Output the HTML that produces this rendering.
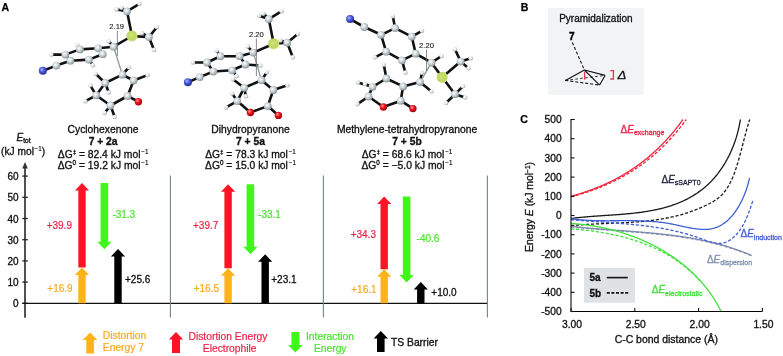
<!DOCTYPE html><html><head><meta charset="utf-8"><style>html,body{margin:0;padding:0;background:#fff;}svg{display:block;font-family:"Liberation Sans", Arial, sans-serif;}</style></head><body>
<svg width="783" height="356" viewBox="0 0 783 356">
<defs><radialGradient id="gC" cx="0.4" cy="0.38" r="0.68"><stop offset="0" stop-color="#ffffff"/><stop offset="0.4" stop-color="#d2dadd"/><stop offset="1" stop-color="#7f8d95"/></radialGradient><radialGradient id="gH" cx="0.38" cy="0.35" r="0.7"><stop offset="0" stop-color="#ffffff"/><stop offset="0.5" stop-color="#e4e7e9"/><stop offset="1" stop-color="#9aa1a5"/></radialGradient><radialGradient id="gN" cx="0.38" cy="0.35" r="0.7"><stop offset="0" stop-color="#aab4ff"/><stop offset="0.45" stop-color="#4657d8"/><stop offset="1" stop-color="#232c8c"/></radialGradient><radialGradient id="gO" cx="0.38" cy="0.35" r="0.7"><stop offset="0" stop-color="#ff9a9a"/><stop offset="0.45" stop-color="#e8101a"/><stop offset="1" stop-color="#9a0008"/></radialGradient><radialGradient id="gS" cx="0.45" cy="0.45" r="0.6"><stop offset="0" stop-color="#cfe47a"/><stop offset="0.65" stop-color="#bcd85e"/><stop offset="1" stop-color="#dce99c"/></radialGradient></defs>
<text x="1.6" y="11.3" font-size="10.60" text-anchor="start" fill="#000" stroke="#000" stroke-width="0.25" font-weight="bold" font-style="normal">A</text>
<text x="520.8" y="11.3" font-size="10.60" text-anchor="start" fill="#000" stroke="#000" stroke-width="0.25" font-weight="bold" font-style="normal">B</text>
<text x="520.2" y="122.5" font-size="10.60" text-anchor="start" fill="#000" stroke="#000" stroke-width="0.25" font-weight="bold" font-style="normal">C</text>
<g stroke="#111" stroke-width="2.6" stroke-linecap="round"><line x1="42.8" y1="70.8" x2="56.3" y2="65.6"/><line x1="56.3" y1="65.6" x2="70.4" y2="60.7"/><line x1="70.4" y1="60.7" x2="65.3" y2="54.6"/><line x1="65.3" y1="54.6" x2="79.9" y2="49.4"/><line x1="79.9" y1="49.4" x2="98.2" y2="48.3"/><line x1="98.2" y1="48.3" x2="102.7" y2="54.2"/><line x1="102.7" y1="54.2" x2="88.9" y2="59.6"/><line x1="88.9" y1="59.6" x2="70.4" y2="60.7"/><line x1="65.3" y1="54.6" x2="51.3" y2="54.6"/><line x1="79.9" y1="49.4" x2="77.2" y2="45.0"/><line x1="88.9" y1="59.6" x2="92.9" y2="65.2"/><line x1="98.2" y1="48.3" x2="113.6" y2="46.7"/><line x1="113.6" y1="46.7" x2="108.6" y2="41.2"/><line x1="113.6" y1="46.7" x2="132.0" y2="36.0"/><line x1="132.0" y1="36.0" x2="127.0" y2="11.3"/><line x1="127.0" y1="11.3" x2="139.4" y2="3.8"/><line x1="127.0" y1="11.3" x2="116.5" y2="9.4"/><line x1="127.0" y1="11.3" x2="121.5" y2="7.8"/><line x1="132.0" y1="36.0" x2="148.9" y2="37.1"/><line x1="148.9" y1="37.1" x2="157.0" y2="27.0"/><line x1="148.9" y1="37.1" x2="154.0" y2="49.9"/><line x1="148.9" y1="37.1" x2="142.0" y2="33.0"/><line x1="122.4" y1="74.7" x2="129.0" y2="67.3"/><line x1="122.4" y1="74.7" x2="133.6" y2="80.5"/><line x1="133.6" y1="80.5" x2="147.5" y2="75.1"/><line x1="133.6" y1="80.5" x2="127.6" y2="96.0"/><line x1="127.6" y1="96.0" x2="138.4" y2="101.7"/><line x1="122.4" y1="74.7" x2="105.2" y2="83.0"/><line x1="105.2" y1="83.0" x2="95.6" y2="73.8"/><line x1="105.2" y1="83.0" x2="108.8" y2="92.5"/><line x1="105.2" y1="83.0" x2="96.2" y2="95.3"/><line x1="96.2" y1="95.3" x2="90.3" y2="85.3"/><line x1="96.2" y1="95.3" x2="85.3" y2="101.2"/><line x1="96.2" y1="95.3" x2="110.5" y2="105.5"/><line x1="110.5" y1="105.5" x2="104.6" y2="113.0"/><line x1="110.5" y1="105.5" x2="114.7" y2="117.0"/><line x1="110.5" y1="105.5" x2="127.6" y2="96.0"/></g><line x1="113.6" y1="46.7" x2="122.4" y2="74.7" stroke="#8f979b" stroke-width="1.3"/><circle cx="51.3" cy="54.6" r="2.3" fill="url(#gH)"/><circle cx="77.2" cy="45.0" r="2.3" fill="url(#gH)"/><circle cx="92.9" cy="65.2" r="2.3" fill="url(#gH)"/><circle cx="108.6" cy="41.2" r="2.3" fill="url(#gH)"/><circle cx="139.4" cy="3.8" r="2.3" fill="url(#gH)"/><circle cx="116.5" cy="9.4" r="2.3" fill="url(#gH)"/><circle cx="121.5" cy="7.8" r="2.3" fill="url(#gH)"/><circle cx="157.0" cy="27.0" r="2.3" fill="url(#gH)"/><circle cx="154.0" cy="49.9" r="2.3" fill="url(#gH)"/><circle cx="142.0" cy="33.0" r="2.3" fill="url(#gH)"/><circle cx="129.0" cy="67.3" r="2.3" fill="url(#gH)"/><circle cx="147.5" cy="75.1" r="2.3" fill="url(#gH)"/><circle cx="95.6" cy="73.8" r="2.3" fill="url(#gH)"/><circle cx="108.8" cy="92.5" r="2.3" fill="url(#gH)"/><circle cx="90.3" cy="85.3" r="2.3" fill="url(#gH)"/><circle cx="85.3" cy="101.2" r="2.3" fill="url(#gH)"/><circle cx="104.6" cy="113.0" r="2.3" fill="url(#gH)"/><circle cx="114.7" cy="117.0" r="2.3" fill="url(#gH)"/><circle cx="42.8" cy="70.8" r="4.0" fill="url(#gN)"/><circle cx="56.3" cy="65.6" r="3.9" fill="url(#gC)"/><circle cx="70.4" cy="60.7" r="3.9" fill="url(#gC)"/><circle cx="65.3" cy="54.6" r="3.9" fill="url(#gC)"/><circle cx="79.9" cy="49.4" r="3.9" fill="url(#gC)"/><circle cx="98.2" cy="48.3" r="3.9" fill="url(#gC)"/><circle cx="102.7" cy="54.2" r="3.9" fill="url(#gC)"/><circle cx="88.9" cy="59.6" r="3.9" fill="url(#gC)"/><circle cx="113.6" cy="46.7" r="3.9" fill="url(#gC)"/><circle cx="132.0" cy="36.0" r="5.6" fill="url(#gS)"/><circle cx="127.0" cy="11.3" r="3.9" fill="url(#gC)"/><circle cx="148.9" cy="37.1" r="3.9" fill="url(#gC)"/><circle cx="122.4" cy="74.7" r="3.9" fill="url(#gC)"/><circle cx="133.6" cy="80.5" r="3.9" fill="url(#gC)"/><circle cx="127.6" cy="96.0" r="3.9" fill="url(#gC)"/><circle cx="138.4" cy="101.7" r="3.7" fill="url(#gO)"/><circle cx="105.2" cy="83.0" r="3.9" fill="url(#gC)"/><circle cx="96.2" cy="95.3" r="3.9" fill="url(#gC)"/><circle cx="110.5" cy="105.5" r="3.9" fill="url(#gC)"/><text x="116.7" y="29.2" font-size="7.60" text-anchor="middle" fill="#222" stroke="#222" stroke-width="0.12" font-weight="normal" font-style="normal">2.19</text><line x1="117.4" y1="30.5" x2="117.4" y2="56.0" stroke="#6b7075" stroke-width="0.8"/>
<g stroke="#111" stroke-width="2.6" stroke-linecap="round"><line x1="187.9" y1="82.2" x2="199.8" y2="77.1"/><line x1="199.8" y1="77.1" x2="213.3" y2="71.5"/><line x1="213.3" y1="71.5" x2="207.0" y2="62.5"/><line x1="207.0" y1="62.5" x2="220.4" y2="56.2"/><line x1="220.4" y1="56.2" x2="239.6" y2="56.2"/><line x1="239.6" y1="56.2" x2="245.4" y2="64.5"/><line x1="245.4" y1="64.5" x2="232.1" y2="70.3"/><line x1="232.1" y1="70.3" x2="213.3" y2="71.5"/><line x1="207.0" y1="62.5" x2="193.0" y2="62.5"/><line x1="220.4" y1="56.2" x2="216.4" y2="50.6"/><line x1="232.1" y1="70.3" x2="236.6" y2="76.0"/><line x1="239.6" y1="56.2" x2="253.3" y2="52.6"/><line x1="253.3" y1="52.6" x2="247.6" y2="46.4"/><line x1="253.3" y1="52.6" x2="273.7" y2="43.8"/><line x1="273.7" y1="43.8" x2="268.8" y2="19.1"/><line x1="268.8" y1="19.1" x2="281.6" y2="11.2"/><line x1="268.8" y1="19.1" x2="259.1" y2="15.7"/><line x1="268.8" y1="19.1" x2="263.6" y2="13.5"/><line x1="273.7" y1="43.8" x2="287.2" y2="42.7"/><line x1="287.2" y1="42.7" x2="298.0" y2="33.7"/><line x1="287.2" y1="42.7" x2="292.8" y2="57.3"/><line x1="287.2" y1="42.7" x2="280.4" y2="40.4"/><line x1="261.5" y1="80.2" x2="266.9" y2="72.1"/><line x1="261.5" y1="80.2" x2="273.3" y2="90.0"/><line x1="273.3" y1="90.0" x2="287.5" y2="85.3"/><line x1="273.3" y1="90.0" x2="267.8" y2="106.1"/><line x1="267.8" y1="106.1" x2="278.4" y2="115.4"/><line x1="267.8" y1="106.1" x2="250.4" y2="112.5"/><line x1="250.4" y1="112.5" x2="237.3" y2="101.1"/><line x1="237.3" y1="101.1" x2="232.1" y2="93.5"/><line x1="237.3" y1="101.1" x2="226.0" y2="107.4"/><line x1="237.3" y1="101.1" x2="244.2" y2="87.8"/><line x1="244.2" y1="87.8" x2="245.9" y2="96.2"/><line x1="244.2" y1="87.8" x2="232.8" y2="79.3"/><line x1="244.2" y1="87.8" x2="261.5" y2="80.2"/><line x1="245.4" y1="64.5" x2="260.4" y2="65.5"/></g><line x1="253.3" y1="52.6" x2="261.5" y2="80.2" stroke="#8f979b" stroke-width="1.3"/><circle cx="193.0" cy="62.5" r="2.3" fill="url(#gH)"/><circle cx="216.4" cy="50.6" r="2.3" fill="url(#gH)"/><circle cx="236.6" cy="76.0" r="2.3" fill="url(#gH)"/><circle cx="247.6" cy="46.4" r="2.3" fill="url(#gH)"/><circle cx="281.6" cy="11.2" r="2.3" fill="url(#gH)"/><circle cx="259.1" cy="15.7" r="2.3" fill="url(#gH)"/><circle cx="263.6" cy="13.5" r="2.3" fill="url(#gH)"/><circle cx="298.0" cy="33.7" r="2.3" fill="url(#gH)"/><circle cx="292.8" cy="57.3" r="2.3" fill="url(#gH)"/><circle cx="280.4" cy="40.4" r="2.3" fill="url(#gH)"/><circle cx="266.9" cy="72.1" r="2.3" fill="url(#gH)"/><circle cx="287.5" cy="85.3" r="2.3" fill="url(#gH)"/><circle cx="232.1" cy="93.5" r="2.3" fill="url(#gH)"/><circle cx="226.0" cy="107.4" r="2.3" fill="url(#gH)"/><circle cx="245.9" cy="96.2" r="2.3" fill="url(#gH)"/><circle cx="232.8" cy="79.3" r="2.3" fill="url(#gH)"/><circle cx="260.4" cy="65.5" r="2.3" fill="url(#gH)"/><circle cx="187.9" cy="82.2" r="4.0" fill="url(#gN)"/><circle cx="199.8" cy="77.1" r="3.9" fill="url(#gC)"/><circle cx="213.3" cy="71.5" r="3.9" fill="url(#gC)"/><circle cx="207.0" cy="62.5" r="3.9" fill="url(#gC)"/><circle cx="220.4" cy="56.2" r="3.9" fill="url(#gC)"/><circle cx="239.6" cy="56.2" r="3.9" fill="url(#gC)"/><circle cx="245.4" cy="64.5" r="3.9" fill="url(#gC)"/><circle cx="232.1" cy="70.3" r="3.9" fill="url(#gC)"/><circle cx="253.3" cy="52.6" r="3.9" fill="url(#gC)"/><circle cx="273.7" cy="43.8" r="5.6" fill="url(#gS)"/><circle cx="268.8" cy="19.1" r="3.9" fill="url(#gC)"/><circle cx="287.2" cy="42.7" r="3.9" fill="url(#gC)"/><circle cx="261.5" cy="80.2" r="3.9" fill="url(#gC)"/><circle cx="273.3" cy="90.0" r="3.9" fill="url(#gC)"/><circle cx="267.8" cy="106.1" r="3.9" fill="url(#gC)"/><circle cx="278.4" cy="115.4" r="3.7" fill="url(#gO)"/><circle cx="250.4" cy="112.5" r="3.7" fill="url(#gO)"/><circle cx="237.3" cy="101.1" r="3.9" fill="url(#gC)"/><circle cx="244.2" cy="87.8" r="3.9" fill="url(#gC)"/><text x="256.3" y="37.0" font-size="7.60" text-anchor="middle" fill="#222" stroke="#222" stroke-width="0.12" font-weight="normal" font-style="normal">2.20</text><line x1="256.4" y1="38.5" x2="256.4" y2="76.0" stroke="#6b7075" stroke-width="0.8"/>
<g stroke="#111" stroke-width="2.6" stroke-linecap="round"><line x1="350.1" y1="19.1" x2="364.3" y2="27.0"/><line x1="364.3" y1="27.0" x2="381.1" y2="34.8"/><line x1="381.1" y1="34.8" x2="395.1" y2="28.1"/><line x1="395.1" y1="28.1" x2="411.8" y2="36.6"/><line x1="411.8" y1="36.6" x2="415.7" y2="53.7"/><line x1="415.7" y1="53.7" x2="402.0" y2="60.3"/><line x1="402.0" y1="60.3" x2="386.1" y2="51.7"/><line x1="386.1" y1="51.7" x2="381.1" y2="34.8"/><line x1="395.1" y1="28.1" x2="392.8" y2="16.2"/><line x1="411.8" y1="36.6" x2="422.0" y2="30.8"/><line x1="402.0" y1="60.3" x2="405.4" y2="72.6"/><line x1="386.1" y1="51.7" x2="374.8" y2="57.3"/><line x1="415.7" y1="53.7" x2="431.5" y2="62.7"/><line x1="431.5" y1="62.7" x2="441.6" y2="56.0"/><line x1="431.5" y1="62.7" x2="442.2" y2="77.3"/><line x1="442.2" y1="77.3" x2="460.7" y2="61.6"/><line x1="460.7" y1="61.6" x2="455.0" y2="49.2"/><line x1="460.7" y1="61.6" x2="470.8" y2="58.2"/><line x1="460.7" y1="61.6" x2="468.5" y2="68.3"/><line x1="442.2" y1="77.3" x2="455.0" y2="94.2"/><line x1="455.0" y1="94.2" x2="462.9" y2="86.3"/><line x1="455.0" y1="94.2" x2="465.2" y2="97.5"/><line x1="455.0" y1="94.2" x2="446.0" y2="103.0"/><line x1="420.0" y1="82.1" x2="422.0" y2="72.8"/><line x1="420.0" y1="82.1" x2="431.5" y2="91.5"/><line x1="420.0" y1="82.1" x2="403.1" y2="86.4"/><line x1="403.1" y1="86.4" x2="400.7" y2="100.7"/><line x1="400.7" y1="100.7" x2="412.9" y2="108.6"/><line x1="400.7" y1="100.7" x2="383.4" y2="107.0"/><line x1="383.4" y1="107.0" x2="368.5" y2="96.5"/><line x1="368.5" y1="96.5" x2="357.5" y2="104.1"/><line x1="368.5" y1="96.5" x2="372.5" y2="86.8"/><line x1="372.5" y1="86.8" x2="357.9" y2="82.4"/><line x1="372.5" y1="86.8" x2="365.0" y2="84.0"/><line x1="372.5" y1="86.8" x2="386.4" y2="78.5"/><line x1="386.4" y1="78.5" x2="383.8" y2="64.7"/><line x1="386.4" y1="78.5" x2="403.1" y2="86.4"/></g><line x1="431.5" y1="62.7" x2="420.0" y2="82.1" stroke="#8f979b" stroke-width="1.3"/><circle cx="392.8" cy="16.2" r="2.3" fill="url(#gH)"/><circle cx="422.0" cy="30.8" r="2.3" fill="url(#gH)"/><circle cx="405.4" cy="72.6" r="2.3" fill="url(#gH)"/><circle cx="374.8" cy="57.3" r="2.3" fill="url(#gH)"/><circle cx="441.6" cy="56.0" r="2.3" fill="url(#gH)"/><circle cx="455.0" cy="49.2" r="2.3" fill="url(#gH)"/><circle cx="470.8" cy="58.2" r="2.3" fill="url(#gH)"/><circle cx="468.5" cy="68.3" r="2.3" fill="url(#gH)"/><circle cx="462.9" cy="86.3" r="2.3" fill="url(#gH)"/><circle cx="465.2" cy="97.5" r="2.3" fill="url(#gH)"/><circle cx="446.0" cy="103.0" r="2.3" fill="url(#gH)"/><circle cx="422.0" cy="72.8" r="2.3" fill="url(#gH)"/><circle cx="431.5" cy="91.5" r="2.3" fill="url(#gH)"/><circle cx="383.8" cy="64.7" r="2.3" fill="url(#gH)"/><circle cx="357.9" cy="82.4" r="2.3" fill="url(#gH)"/><circle cx="365.0" cy="84.0" r="2.3" fill="url(#gH)"/><circle cx="357.5" cy="104.1" r="2.3" fill="url(#gH)"/><circle cx="350.1" cy="19.1" r="4.0" fill="url(#gN)"/><circle cx="364.3" cy="27.0" r="3.9" fill="url(#gC)"/><circle cx="381.1" cy="34.8" r="3.9" fill="url(#gC)"/><circle cx="395.1" cy="28.1" r="3.9" fill="url(#gC)"/><circle cx="411.8" cy="36.6" r="3.9" fill="url(#gC)"/><circle cx="415.7" cy="53.7" r="3.9" fill="url(#gC)"/><circle cx="402.0" cy="60.3" r="3.9" fill="url(#gC)"/><circle cx="386.1" cy="51.7" r="3.9" fill="url(#gC)"/><circle cx="431.5" cy="62.7" r="3.9" fill="url(#gC)"/><circle cx="442.2" cy="77.3" r="5.6" fill="url(#gS)"/><circle cx="460.7" cy="61.6" r="3.9" fill="url(#gC)"/><circle cx="455.0" cy="94.2" r="3.9" fill="url(#gC)"/><circle cx="420.0" cy="82.1" r="3.9" fill="url(#gC)"/><circle cx="403.1" cy="86.4" r="3.9" fill="url(#gC)"/><circle cx="400.7" cy="100.7" r="3.9" fill="url(#gC)"/><circle cx="412.9" cy="108.6" r="3.7" fill="url(#gO)"/><circle cx="383.4" cy="107.0" r="3.7" fill="url(#gO)"/><circle cx="386.4" cy="78.5" r="3.9" fill="url(#gC)"/><circle cx="372.5" cy="86.8" r="3.9" fill="url(#gC)"/><circle cx="368.5" cy="96.5" r="3.9" fill="url(#gC)"/><text x="426.5" y="48.0" font-size="7.60" text-anchor="middle" fill="#222" stroke="#222" stroke-width="0.12" font-weight="normal" font-style="normal">2.20</text><line x1="426.5" y1="49.5" x2="426.5" y2="71.0" stroke="#6b7075" stroke-width="0.8"/>
<text x="103.1" y="132.7" font-size="10.30" text-anchor="middle" fill="#111" stroke="#111" stroke-width="0.32" font-weight="normal" font-style="normal">Cyclohexenone</text>
<text x="103.1" y="145.0" font-size="10.30" text-anchor="middle" fill="#111" stroke="#111" stroke-width="0.32" font-weight="bold" font-style="normal">7 + 2a</text>
<text x="103.1" y="157.6" font-size="10.30" text-anchor="middle" fill="#111" stroke="#111" stroke-width="0.32" font-weight="normal" font-style="normal">&#916;G<tspan font-size="5.6" dy="-3.6" dx="0.3">&#8225;</tspan><tspan dy="3.6"> = 82.4 kJ mol</tspan><tspan font-size="6.3" dy="-3.7" dx="0.8" stroke-width="0.15">&#8722;1</tspan></text>
<text x="103.1" y="169.0" font-size="10.30" text-anchor="middle" fill="#111" stroke="#111" stroke-width="0.32" font-weight="normal" font-style="normal">&#916;G<tspan font-size="6.3" dy="-3.7">0</tspan><tspan dy="3.7"> = 19.2 kJ mol</tspan><tspan font-size="6.3" dy="-3.7" dx="0.8" stroke-width="0.15">&#8722;1</tspan></text>
<text x="250.5" y="132.7" font-size="10.30" text-anchor="middle" fill="#111" stroke="#111" stroke-width="0.32" font-weight="normal" font-style="normal">Dihydropyranone</text>
<text x="250.5" y="145.0" font-size="10.30" text-anchor="middle" fill="#111" stroke="#111" stroke-width="0.32" font-weight="bold" font-style="normal">7 + 5a</text>
<text x="250.5" y="157.6" font-size="10.30" text-anchor="middle" fill="#111" stroke="#111" stroke-width="0.32" font-weight="normal" font-style="normal">&#916;G<tspan font-size="5.6" dy="-3.6" dx="0.3">&#8225;</tspan><tspan dy="3.6"> = 78.3 kJ mol</tspan><tspan font-size="6.3" dy="-3.7" dx="0.8" stroke-width="0.15">&#8722;1</tspan></text>
<text x="250.5" y="169.0" font-size="10.30" text-anchor="middle" fill="#111" stroke="#111" stroke-width="0.32" font-weight="normal" font-style="normal">&#916;G<tspan font-size="6.3" dy="-3.7">0</tspan><tspan dy="3.7"> = 15.0 kJ mol</tspan><tspan font-size="6.3" dy="-3.7" dx="0.8" stroke-width="0.15">&#8722;1</tspan></text>
<text x="407.0" y="132.7" font-size="10.30" text-anchor="middle" fill="#111" stroke="#111" stroke-width="0.32" font-weight="normal" font-style="normal">Methylene-tetrahydropyranone</text>
<text x="407.0" y="145.0" font-size="10.30" text-anchor="middle" fill="#111" stroke="#111" stroke-width="0.32" font-weight="bold" font-style="normal">7 + 5b</text>
<text x="407.0" y="157.6" font-size="10.30" text-anchor="middle" fill="#111" stroke="#111" stroke-width="0.32" font-weight="normal" font-style="normal">&#916;G<tspan font-size="5.6" dy="-3.6" dx="0.3">&#8225;</tspan><tspan dy="3.6"> = 68.6 kJ mol</tspan><tspan font-size="6.3" dy="-3.7" dx="0.8" stroke-width="0.15">&#8722;1</tspan></text>
<text x="407.0" y="169.0" font-size="10.30" text-anchor="middle" fill="#111" stroke="#111" stroke-width="0.32" font-weight="normal" font-style="normal">&#916;G<tspan font-size="6.3" dy="-3.7">0</tspan><tspan dy="3.7"> = &#8722;5.0 kJ mol</tspan><tspan font-size="6.3" dy="-3.7" dx="0.8" stroke-width="0.15">&#8722;1</tspan></text>
<text x="23.5" y="141.0" font-size="10.00" text-anchor="middle" fill="#111" stroke="#111" stroke-width="0.32" font-weight="normal" font-style="normal"><tspan font-style="italic">E</tspan><tspan font-size="6.5" dy="2.2">tot</tspan></text>
<text x="23.1" y="154.6" font-size="10.20" text-anchor="middle" fill="#111" stroke="#111" stroke-width="0.32" font-weight="normal" font-style="normal">(kJ mol<tspan font-size="6.3" dy="-3.7" dx="0.6" stroke-width="0.15">&#8722;1</tspan><tspan dy="3.7">)</tspan></text>
<line x1="25" y1="166" x2="25" y2="317.8" stroke="#262626" stroke-width="1.6"/>
<polygon points="25,162 22.2,168.5 27.8,168.5" fill="#333"/>
<line x1="22.3" y1="303.3" x2="27.8" y2="303.3" stroke="#262626" stroke-width="1.3"/>
<text x="18.6" y="307.4" font-size="10.00" text-anchor="end" fill="#111" stroke="#111" stroke-width="0.32" font-weight="normal" font-style="normal">0</text>
<line x1="22.3" y1="282.1" x2="27.8" y2="282.1" stroke="#262626" stroke-width="1.3"/>
<text x="18.6" y="286.2" font-size="10.00" text-anchor="end" fill="#111" stroke="#111" stroke-width="0.32" font-weight="normal" font-style="normal">10</text>
<line x1="22.3" y1="260.9" x2="27.8" y2="260.9" stroke="#262626" stroke-width="1.3"/>
<text x="18.6" y="265.0" font-size="10.00" text-anchor="end" fill="#111" stroke="#111" stroke-width="0.32" font-weight="normal" font-style="normal">20</text>
<line x1="22.3" y1="239.7" x2="27.8" y2="239.7" stroke="#262626" stroke-width="1.3"/>
<text x="18.6" y="243.8" font-size="10.00" text-anchor="end" fill="#111" stroke="#111" stroke-width="0.32" font-weight="normal" font-style="normal">30</text>
<line x1="22.3" y1="218.5" x2="27.8" y2="218.5" stroke="#262626" stroke-width="1.3"/>
<text x="18.6" y="222.6" font-size="10.00" text-anchor="end" fill="#111" stroke="#111" stroke-width="0.32" font-weight="normal" font-style="normal">40</text>
<line x1="22.3" y1="197.3" x2="27.8" y2="197.3" stroke="#262626" stroke-width="1.3"/>
<text x="18.6" y="201.4" font-size="10.00" text-anchor="end" fill="#111" stroke="#111" stroke-width="0.32" font-weight="normal" font-style="normal">50</text>
<line x1="22.3" y1="176.1" x2="27.8" y2="176.1" stroke="#262626" stroke-width="1.3"/>
<text x="18.6" y="180.2" font-size="10.00" text-anchor="end" fill="#111" stroke="#111" stroke-width="0.32" font-weight="normal" font-style="normal">60</text>
<line x1="22.3" y1="303.4" x2="487.5" y2="303.4" stroke="#111" stroke-width="1.1"/>
<line x1="170.4" y1="175.5" x2="170.4" y2="317.4" stroke="#6e8393" stroke-width="1.1"/>
<line x1="323.4" y1="175.5" x2="323.4" y2="317.4" stroke="#6e8393" stroke-width="1.1"/>
<line x1="487.4" y1="175.5" x2="487.4" y2="317.4" stroke="#6e8393" stroke-width="1.1"/>
<polygon fill="#ffb21a" points="78.3,303.3 78.3,275.0 74.9,275.0 82.0,267.5 89.1,275.0 85.7,275.0 85.7,303.3"/>
<polygon fill="#fe1426" points="78.3,267.5 78.3,190.4 74.9,190.4 82.0,182.9 89.1,190.4 85.7,190.4 85.7,267.5"/>
<polygon fill="#3ff818" points="100.6,182.9 100.6,241.7 97.3,241.7 104.4,249.2 111.5,241.7 108.2,241.7 108.2,182.9"/>
<polygon fill="#000" points="114.3,303.3 114.3,256.5 110.9,256.5 118.0,249.0 125.1,256.5 121.7,256.5 121.7,303.3"/>
<polygon fill="#ffb21a" points="224.4,303.3 224.4,275.8 221.0,275.8 228.1,268.3 235.2,275.8 231.8,275.8 231.8,303.3"/>
<polygon fill="#fe1426" points="224.4,268.3 224.4,191.7 221.0,191.7 228.1,184.2 235.2,191.7 231.8,191.7 231.8,268.3"/>
<polygon fill="#3ff818" points="246.6,184.2 246.6,246.8 243.3,246.8 250.4,254.3 257.5,246.8 254.2,246.8 254.2,184.2"/>
<polygon fill="#000" points="261.5,303.3 261.5,261.8 258.1,261.8 265.2,254.3 272.3,261.8 268.9,261.8 268.9,303.3"/>
<polygon fill="#ffb21a" points="380.5,303.3 380.5,276.7 377.1,276.7 384.2,269.2 391.3,276.7 387.9,276.7 387.9,303.3"/>
<polygon fill="#fe1426" points="380.5,269.2 380.5,204.0 377.1,204.0 384.2,196.5 391.3,204.0 387.9,204.0 387.9,269.2"/>
<polygon fill="#3ff818" points="402.8,196.5 402.8,275.0 399.5,275.0 406.6,282.5 413.7,275.0 410.4,275.0 410.4,196.5"/>
<polygon fill="#000" points="417.1,303.3 417.1,289.6 413.7,289.6 420.8,282.1 427.9,289.6 424.5,289.6 424.5,303.3"/>
<text x="59.3" y="228.8" font-size="10.00" text-anchor="middle" fill="#ec1f45" stroke="#ec1f45" stroke-width="0.18" font-weight="normal" font-style="normal">+39.9</text>
<text x="123.8" y="217.6" font-size="10.00" text-anchor="middle" fill="#46e62a" stroke="#46e62a" stroke-width="0.18" font-weight="normal" font-style="normal">-31.3</text>
<text x="60.0" y="292.0" font-size="10.00" text-anchor="middle" fill="#f8a91c" stroke="#f8a91c" stroke-width="0.18" font-weight="normal" font-style="normal">+16.9</text>
<text x="137.7" y="283.2" font-size="10.00" text-anchor="middle" fill="#111" stroke="#111" stroke-width="0.30" font-weight="normal" font-style="normal">+25.6</text>
<text x="205.7" y="228.8" font-size="10.00" text-anchor="middle" fill="#ec1f45" stroke="#ec1f45" stroke-width="0.18" font-weight="normal" font-style="normal">+39.7</text>
<text x="269.5" y="217.6" font-size="10.00" text-anchor="middle" fill="#46e62a" stroke="#46e62a" stroke-width="0.18" font-weight="normal" font-style="normal">-33.1</text>
<text x="206.3" y="292.0" font-size="10.00" text-anchor="middle" fill="#f8a91c" stroke="#f8a91c" stroke-width="0.18" font-weight="normal" font-style="normal">+16.5</text>
<text x="283.9" y="283.2" font-size="10.00" text-anchor="middle" fill="#111" stroke="#111" stroke-width="0.30" font-weight="normal" font-style="normal">+23.1</text>
<text x="363.3" y="238.0" font-size="10.00" text-anchor="middle" fill="#ec1f45" stroke="#ec1f45" stroke-width="0.18" font-weight="normal" font-style="normal">+34.3</text>
<text x="428.0" y="242.0" font-size="10.00" text-anchor="middle" fill="#46e62a" stroke="#46e62a" stroke-width="0.18" font-weight="normal" font-style="normal">-40.6</text>
<text x="363.9" y="292.6" font-size="10.00" text-anchor="middle" fill="#f8a91c" stroke="#f8a91c" stroke-width="0.18" font-weight="normal" font-style="normal">+16.1</text>
<text x="444.0" y="296.3" font-size="10.00" text-anchor="middle" fill="#111" stroke="#111" stroke-width="0.30" font-weight="normal" font-style="normal">+10.0</text>
<polygon fill="#ffb21a" points="86.3,353.5 86.3,340.0 82.9,340.0 90.1,332.4 97.3,340.0 93.9,340.0 93.9,353.5"/>
<text x="102.8" y="339.4" font-size="10.30" text-anchor="start" fill="#f8a91c" stroke="#f8a91c" stroke-width="0.20" font-weight="normal" font-style="normal">Distortion</text>
<text x="102.8" y="351.3" font-size="10.30" text-anchor="start" fill="#f8a91c" stroke="#f8a91c" stroke-width="0.20" font-weight="normal" font-style="normal">Energy 7</text>
<polygon fill="#fe1426" points="172.0,353.0 172.0,339.6 168.8,339.6 176.0,332.0 183.2,339.6 180.0,339.6 180.0,353.0"/>
<text x="228.0" y="339.6" font-size="10.30" text-anchor="middle" fill="#ec1f45" stroke="#ec1f45" stroke-width="0.20" font-weight="normal" font-style="normal">Distortion Energy</text>
<text x="229.7" y="351.9" font-size="10.30" text-anchor="middle" fill="#ec1f45" stroke="#ec1f45" stroke-width="0.20" font-weight="normal" font-style="normal">Electrophile</text>
<polygon fill="#3ff818" points="291.4,332.0 291.4,345.1 288.1,345.1 295.4,352.5 302.7,345.1 299.4,345.1 299.4,332.0"/>
<text x="330.0" y="339.6" font-size="10.30" text-anchor="middle" fill="#46e62a" stroke="#46e62a" stroke-width="0.20" font-weight="normal" font-style="normal">Interaction</text>
<text x="330.2" y="351.9" font-size="10.30" text-anchor="middle" fill="#46e62a" stroke="#46e62a" stroke-width="0.20" font-weight="normal" font-style="normal">Energy</text>
<polygon fill="#000" points="377.0,352.0 377.0,338.6 373.6,338.6 380.8,331.0 388.0,338.6 384.6,338.6 384.6,352.0"/>
<text x="391.0" y="346.3" font-size="10.30" text-anchor="start" fill="#111" stroke="#111" stroke-width="0.32" font-weight="normal" font-style="normal">TS Barrier</text>
<rect x="548" y="8" width="95.8" height="86.7" fill="#f1f3f4"/>
<text x="559.2" y="21.8" font-size="10.00" text-anchor="start" fill="#111" stroke="#111" stroke-width="0.32" font-weight="normal" font-style="normal">Pyramidalization</text>
<text x="571.7" y="39.7" font-size="10.00" text-anchor="middle" fill="#000" stroke="#000" stroke-width="0.45" font-weight="bold" font-style="normal">7</text>
<g stroke="#111" stroke-width="1.1" fill="none"><line x1="572.3" y1="42.5" x2="584.4" y2="70" stroke-dasharray="3,2"/><line x1="584.4" y1="70" x2="565.4" y2="80.4"/><line x1="584.4" y1="70" x2="605.1" y2="75.4"/><line x1="584.4" y1="70" x2="599.6" y2="85.1"/><line x1="605.1" y1="75.4" x2="599.6" y2="85.1"/><line x1="565.4" y1="80.4" x2="599.6" y2="85.1" stroke-dasharray="3,2"/><line x1="565.4" y1="80.4" x2="605.1" y2="75.4" stroke-dasharray="2.5,2.5" stroke-width="0.9"/></g>
<line x1="584.6" y1="71.6" x2="584.6" y2="79.6" stroke="#ef3350" stroke-width="1.3"/>
<polyline points="610.3,70.6 613.4,70.6 613.4,79.0 610.3,79.0" fill="none" stroke="#ef3350" stroke-width="1.3"/>
<g transform="translate(617.6,78.5) scale(1.3,1)"><text x="0.0" y="0.0" font-size="10.20" text-anchor="start" fill="#111" stroke="#111" stroke-width="0.25" font-weight="normal" font-style="italic">&#916;</text></g>
<rect x="583.9" y="268" width="51.1" height="34.7" fill="#dfe2e4"/>
<text x="589.4" y="281.2" font-size="10.00" text-anchor="start" fill="#111" stroke="#111" stroke-width="0.32" font-weight="bold" font-style="normal">5a</text>
<text x="589.4" y="296.5" font-size="10.00" text-anchor="start" fill="#111" stroke="#111" stroke-width="0.32" font-weight="bold" font-style="normal">5b</text>
<line x1="606.8" y1="277.6" x2="627.8" y2="277.6" stroke="#111" stroke-width="1.6"/>
<line x1="606.8" y1="292.9" x2="628.2" y2="292.9" stroke="#111" stroke-width="1.6" stroke-dasharray="3,1.6"/>
<path d="M571.00,196.30 L571.32,196.21 L571.64,196.12 L571.96,196.03 L572.28,195.94 L572.60,195.85 L572.92,195.76 L573.24,195.67 L573.56,195.58 L573.88,195.49 L574.20,195.40 L574.51,195.31 L574.83,195.21 L575.15,195.12 L575.47,195.03 L575.79,194.93 L576.11,194.84 L576.43,194.74 L576.75,194.65 L577.07,194.55 L577.39,194.45 L577.71,194.36 L578.03,194.26 L578.35,194.16 L578.67,194.06 L578.99,193.97 L579.31,193.87 L579.63,193.77 L579.95,193.67 L580.27,193.57 L580.59,193.47 L580.91,193.36 L581.23,193.26 L581.54,193.16 L581.86,193.06 L582.18,192.95 L582.50,192.85 L582.82,192.75 L583.14,192.64 L583.46,192.54 L583.78,192.43 L584.10,192.32 L584.42,192.22 L584.74,192.11 L585.06,192.00 L585.38,191.89 L585.70,191.79 L586.02,191.68 L586.34,191.57 L586.66,191.46 L586.98,191.35 L587.30,191.24 L587.62,191.12 L587.94,191.01 L588.25,190.90 L588.57,190.79 L588.89,190.67 L589.21,190.56 L589.53,190.44 L589.85,190.33 L590.17,190.21 L590.49,190.10 L590.81,189.98 L591.13,189.86 L591.45,189.74 L591.77,189.63 L592.09,189.51 L592.41,189.39 L592.73,189.27 L593.05,189.15 L593.37,189.02 L593.69,188.90 L594.01,188.78 L594.33,188.66 L594.65,188.53 L594.96,188.41 L595.28,188.29 L595.60,188.16 L595.92,188.03 L596.24,187.91 L596.56,187.78 L596.88,187.65 L597.20,187.53 L597.52,187.40 L597.84,187.27 L598.16,187.14 L598.48,187.01 L598.80,186.88 L599.12,186.74 L599.44,186.61 L599.76,186.48 L600.08,186.35 L600.40,186.21 L600.72,186.08 L601.04,185.94 L601.36,185.81 L601.68,185.67 L601.99,185.53 L602.31,185.39 L602.63,185.25 L602.95,185.12 L603.27,184.98 L603.59,184.84 L603.91,184.69 L604.23,184.55 L604.55,184.41 L604.87,184.27 L605.19,184.12 L605.51,183.98 L605.83,183.83 L606.15,183.69 L606.47,183.54 L606.79,183.40 L607.11,183.25 L607.43,183.10 L607.75,182.95 L608.07,182.80 L608.39,182.65 L608.70,182.50 L609.02,182.35 L609.34,182.19 L609.66,182.04 L609.98,181.89 L610.30,181.73 L610.62,181.58 L610.94,181.42 L611.26,181.26 L611.58,181.11 L611.90,180.95 L612.22,180.79 L612.54,180.63 L612.86,180.47 L613.18,180.31 L613.50,180.15 L613.82,179.98 L614.14,179.82 L614.46,179.66 L614.78,179.49 L615.10,179.33 L615.42,179.16 L615.73,178.99 L616.05,178.82 L616.37,178.66 L616.69,178.49 L617.01,178.32 L617.33,178.14 L617.65,177.97 L617.97,177.80 L618.29,177.63 L618.61,177.45 L618.93,177.28 L619.25,177.10 L619.57,176.92 L619.89,176.75 L620.21,176.57 L620.53,176.39 L620.85,176.21 L621.17,176.03 L621.49,175.85 L621.81,175.67 L622.13,175.48 L622.44,175.30 L622.76,175.11 L623.08,174.93 L623.40,174.74 L623.72,174.55 L624.04,174.36 L624.36,174.18 L624.68,173.98 L625.00,173.79 L625.32,173.60 L625.64,173.41 L625.96,173.22 L626.28,173.02 L626.60,172.83 L626.92,172.63 L627.24,172.43 L627.56,172.23 L627.88,172.03 L628.20,171.83 L628.52,171.63 L628.84,171.43 L629.15,171.23 L629.47,171.03 L629.79,170.82 L630.11,170.62 L630.43,170.41 L630.75,170.20 L631.07,169.99 L631.39,169.78 L631.71,169.57 L632.03,169.36 L632.35,169.15 L632.67,168.94 L632.99,168.72 L633.31,168.51 L633.63,168.29 L633.95,168.07 L634.27,167.86 L634.59,167.64 L634.91,167.42 L635.23,167.20 L635.55,166.97 L635.87,166.75 L636.18,166.53 L636.50,166.30 L636.82,166.07 L637.14,165.85 L637.46,165.62 L637.78,165.39 L638.10,165.16 L638.42,164.93 L638.74,164.69 L639.06,164.46 L639.38,164.23 L639.70,163.99 L640.02,163.75 L640.34,163.51 L640.66,163.27 L640.98,163.03 L641.30,162.79 L641.62,162.55 L641.94,162.31 L642.26,162.06 L642.58,161.82 L642.89,161.57 L643.21,161.32 L643.53,161.07 L643.85,160.82 L644.17,160.57 L644.49,160.32 L644.81,160.06 L645.13,159.81 L645.45,159.55 L645.77,159.30 L646.09,159.04 L646.41,158.78 L646.73,158.52 L647.05,158.25 L647.37,157.99 L647.69,157.73 L648.01,157.46 L648.33,157.19 L648.65,156.92 L648.97,156.65 L649.29,156.38 L649.61,156.11 L649.92,155.84 L650.24,155.56 L650.56,155.29 L650.88,155.01 L651.20,154.73 L651.52,154.45 L651.84,154.17 L652.16,153.89 L652.48,153.61 L652.80,153.32 L653.12,153.04 L653.44,152.75 L653.76,152.46 L654.08,152.17 L654.40,151.88 L654.72,151.59 L655.04,151.29 L655.36,151.00 L655.68,150.70 L656.00,150.40 L656.32,150.10 L656.63,149.80 L656.95,149.50 L657.27,149.20 L657.59,148.89 L657.91,148.58 L658.23,148.28 L658.55,147.97 L658.87,147.66 L659.19,147.34 L659.51,147.03 L659.83,146.72 L660.15,146.40 L660.47,146.08 L660.79,145.76 L661.11,145.44 L661.43,145.12 L661.75,144.80 L662.07,144.47 L662.39,144.14 L662.71,143.81 L663.03,143.49 L663.34,143.15 L663.66,142.82 L663.98,142.49 L664.30,142.15 L664.62,141.81 L664.94,141.47 L665.26,141.13 L665.58,140.79 L665.90,140.45 L666.22,140.10 L666.54,139.76 L666.86,139.41 L667.18,139.06 L667.50,138.71 L667.82,138.35 L668.14,138.00 L668.46,137.64 L668.78,137.28 L669.10,136.92 L669.42,136.56 L669.74,136.20 L670.06,135.83 L670.37,135.47 L670.69,135.10 L671.01,134.73 L671.33,134.36 L671.65,133.98 L671.97,133.61 L672.29,133.23 L672.61,132.85 L672.93,132.47 L673.25,132.09 L673.57,131.71 L673.89,131.32 L674.21,130.93 L674.53,130.55 L674.85,130.15 L675.17,129.76 L675.49,129.37 L675.81,128.97 L676.13,128.57 L676.45,128.17 L676.77,127.77 L677.08,127.37 L677.40,126.96 L677.72,126.55 L678.04,126.15 L678.36,125.73 L678.68,125.32 L679.00,124.91 L679.32,124.49 L679.64,124.07 L679.96,123.65 L680.28,123.23 L680.60,122.80 L680.92,122.38 L681.24,121.95 L681.56,121.52 L681.88,121.09 L682.20,120.65 L682.52,120.21 L682.84,119.78 L683.04,119.50" fill="none" stroke="#f5203a" stroke-width="1.3"/>
<path d="M571.00,196.88 L571.32,196.79 L571.64,196.71 L571.96,196.62 L572.28,196.53 L572.60,196.45 L572.92,196.36 L573.24,196.27 L573.56,196.19 L573.88,196.10 L574.20,196.01 L574.51,195.92 L574.83,195.83 L575.15,195.74 L575.47,195.65 L575.79,195.56 L576.11,195.47 L576.43,195.38 L576.75,195.29 L577.07,195.20 L577.39,195.10 L577.71,195.01 L578.03,194.92 L578.35,194.82 L578.67,194.73 L578.99,194.63 L579.31,194.54 L579.63,194.44 L579.95,194.35 L580.27,194.25 L580.59,194.16 L580.91,194.06 L581.23,193.96 L581.54,193.86 L581.86,193.76 L582.18,193.66 L582.50,193.57 L582.82,193.47 L583.14,193.36 L583.46,193.26 L583.78,193.16 L584.10,193.06 L584.42,192.96 L584.74,192.86 L585.06,192.75 L585.38,192.65 L585.70,192.55 L586.02,192.44 L586.34,192.34 L586.66,192.23 L586.98,192.12 L587.30,192.02 L587.62,191.91 L587.94,191.80 L588.25,191.70 L588.57,191.59 L588.89,191.48 L589.21,191.37 L589.53,191.26 L589.85,191.15 L590.17,191.04 L590.49,190.93 L590.81,190.81 L591.13,190.70 L591.45,190.59 L591.77,190.47 L592.09,190.36 L592.41,190.25 L592.73,190.13 L593.05,190.02 L593.37,189.90 L593.69,189.78 L594.01,189.67 L594.33,189.55 L594.65,189.43 L594.96,189.31 L595.28,189.19 L595.60,189.07 L595.92,188.95 L596.24,188.83 L596.56,188.71 L596.88,188.59 L597.20,188.46 L597.52,188.34 L597.84,188.22 L598.16,188.09 L598.48,187.97 L598.80,187.84 L599.12,187.72 L599.44,187.59 L599.76,187.46 L600.08,187.34 L600.40,187.21 L600.72,187.08 L601.04,186.95 L601.36,186.82 L601.68,186.69 L601.99,186.56 L602.31,186.43 L602.63,186.29 L602.95,186.16 L603.27,186.03 L603.59,185.89 L603.91,185.76 L604.23,185.62 L604.55,185.49 L604.87,185.35 L605.19,185.21 L605.51,185.07 L605.83,184.93 L606.15,184.80 L606.47,184.66 L606.79,184.52 L607.11,184.37 L607.43,184.23 L607.75,184.09 L608.07,183.95 L608.39,183.80 L608.70,183.66 L609.02,183.51 L609.34,183.37 L609.66,183.22 L609.98,183.07 L610.30,182.93 L610.62,182.78 L610.94,182.63 L611.26,182.48 L611.58,182.33 L611.90,182.18 L612.22,182.03 L612.54,181.87 L612.86,181.72 L613.18,181.57 L613.50,181.41 L613.82,181.26 L614.14,181.10 L614.46,180.94 L614.78,180.79 L615.10,180.63 L615.42,180.47 L615.73,180.31 L616.05,180.15 L616.37,179.99 L616.69,179.83 L617.01,179.66 L617.33,179.50 L617.65,179.34 L617.97,179.17 L618.29,179.01 L618.61,178.84 L618.93,178.67 L619.25,178.51 L619.57,178.34 L619.89,178.17 L620.21,178.00 L620.53,177.83 L620.85,177.66 L621.17,177.48 L621.49,177.31 L621.81,177.14 L622.13,176.96 L622.44,176.79 L622.76,176.61 L623.08,176.43 L623.40,176.25 L623.72,176.08 L624.04,175.90 L624.36,175.72 L624.68,175.53 L625.00,175.35 L625.32,175.17 L625.64,174.99 L625.96,174.80 L626.28,174.62 L626.60,174.43 L626.92,174.24 L627.24,174.05 L627.56,173.87 L627.88,173.68 L628.20,173.49 L628.52,173.29 L628.84,173.10 L629.15,172.91 L629.47,172.71 L629.79,172.52 L630.11,172.32 L630.43,172.13 L630.75,171.93 L631.07,171.73 L631.39,171.53 L631.71,171.33 L632.03,171.13 L632.35,170.93 L632.67,170.72 L632.99,170.52 L633.31,170.32 L633.63,170.11 L633.95,169.90 L634.27,169.70 L634.59,169.49 L634.91,169.28 L635.23,169.07 L635.55,168.86 L635.87,168.64 L636.18,168.43 L636.50,168.22 L636.82,168.00 L637.14,167.78 L637.46,167.57 L637.78,167.35 L638.10,167.13 L638.42,166.91 L638.74,166.69 L639.06,166.46 L639.38,166.24 L639.70,166.02 L640.02,165.79 L640.34,165.56 L640.66,165.34 L640.98,165.11 L641.30,164.88 L641.62,164.65 L641.94,164.42 L642.26,164.18 L642.58,163.95 L642.89,163.72 L643.21,163.48 L643.53,163.24 L643.85,163.00 L644.17,162.77 L644.49,162.53 L644.81,162.28 L645.13,162.04 L645.45,161.80 L645.77,161.55 L646.09,161.31 L646.41,161.06 L646.73,160.81 L647.05,160.56 L647.37,160.31 L647.69,160.06 L648.01,159.81 L648.33,159.56 L648.65,159.30 L648.97,159.04 L649.29,158.79 L649.61,158.53 L649.92,158.27 L650.24,158.01 L650.56,157.75 L650.88,157.48 L651.20,157.22 L651.52,156.95 L651.84,156.69 L652.16,156.42 L652.48,156.15 L652.80,155.88 L653.12,155.61 L653.44,155.34 L653.76,155.06 L654.08,154.79 L654.40,154.51 L654.72,154.23 L655.04,153.95 L655.36,153.67 L655.68,153.39 L656.00,153.11 L656.32,152.82 L656.63,152.54 L656.95,152.25 L657.27,151.96 L657.59,151.67 L657.91,151.38 L658.23,151.09 L658.55,150.80 L658.87,150.50 L659.19,150.21 L659.51,149.91 L659.83,149.61 L660.15,149.31 L660.47,149.01 L660.79,148.71 L661.11,148.40 L661.43,148.10 L661.75,147.79 L662.07,147.48 L662.39,147.17 L662.71,146.86 L663.03,146.55 L663.34,146.23 L663.66,145.92 L663.98,145.60 L664.30,145.28 L664.62,144.96 L664.94,144.64 L665.26,144.32 L665.58,143.99 L665.90,143.67 L666.22,143.34 L666.54,143.01 L666.86,142.68 L667.18,142.35 L667.50,142.02 L667.82,141.68 L668.14,141.35 L668.46,141.01 L668.78,140.67 L669.10,140.33 L669.42,139.98 L669.74,139.64 L670.06,139.30 L670.37,138.95 L670.69,138.60 L671.01,138.25 L671.33,137.90 L671.65,137.54 L671.97,137.19 L672.29,136.83 L672.61,136.47 L672.93,136.11 L673.25,135.75 L673.57,135.39 L673.89,135.02 L674.21,134.66 L674.53,134.29 L674.85,133.92 L675.17,133.55 L675.49,133.17 L675.81,132.80 L676.13,132.42 L676.45,132.04 L676.77,131.66 L677.08,131.28 L677.40,130.90 L677.72,130.51 L678.04,130.13 L678.36,129.74 L678.68,129.35 L679.00,128.95 L679.32,128.56 L679.64,128.16 L679.96,127.76 L680.28,127.37 L680.60,126.96 L680.92,126.56 L681.24,126.16 L681.56,125.75 L681.88,125.34 L682.20,124.93 L682.52,124.52 L682.84,124.10 L683.16,123.69 L683.48,123.27 L683.79,122.85 L684.11,122.42 L684.43,122.00 L684.75,121.57 L685.07,121.15 L685.39,120.72 L685.71,120.29 L686.03,119.85 L686.29,119.50" fill="none" stroke="#f5203a" stroke-width="1.3" stroke-dasharray="3.2,1.8"/>
<path d="M571.00,218.50 L571.85,218.39 L572.70,218.27 L573.56,218.17 L574.42,218.06 L575.28,217.96 L576.14,217.86 L577.00,217.76 L577.87,217.66 L578.74,217.57 L579.62,217.48 L580.49,217.39 L581.37,217.30 L582.25,217.22 L583.13,217.14 L584.02,217.05 L584.90,216.98 L585.79,216.90 L586.68,216.82 L587.58,216.75 L588.47,216.67 L589.37,216.60 L590.27,216.53 L591.17,216.46 L592.07,216.40 L592.97,216.33 L593.88,216.26 L594.79,216.20 L595.70,216.13 L596.61,216.07 L597.52,216.01 L598.43,215.95 L599.35,215.88 L600.26,215.82 L601.18,215.76 L602.10,215.70 L603.02,215.64 L603.94,215.58 L604.86,215.52 L605.78,215.46 L606.70,215.40 L607.63,215.34 L608.55,215.27 L609.48,215.21 L610.41,215.15 L611.33,215.09 L612.26,215.02 L613.19,214.96 L614.12,214.89 L615.05,214.83 L615.98,214.76 L616.91,214.69 L617.84,214.62 L618.77,214.55 L619.71,214.48 L620.64,214.41 L621.57,214.33 L622.50,214.25 L623.43,214.18 L624.37,214.10 L625.30,214.01 L626.23,213.93 L627.16,213.84 L628.09,213.76 L629.02,213.67 L629.95,213.57 L630.89,213.48 L631.82,213.38 L632.74,213.28 L633.67,213.18 L634.60,213.08 L635.53,212.97 L636.46,212.86 L637.38,212.75 L638.31,212.63 L639.24,212.51 L640.16,212.39 L641.08,212.27 L642.01,212.14 L642.93,212.00 L643.85,211.87 L644.77,211.73 L645.68,211.59 L646.60,211.44 L647.52,211.29 L648.43,211.14 L649.34,210.98 L650.25,210.82 L651.16,210.65 L652.07,210.48 L652.98,210.31 L653.88,210.13 L654.79,209.95 L655.69,209.76 L656.59,209.57 L657.49,209.37 L658.38,209.17 L659.28,208.96 L660.17,208.75 L661.06,208.53 L661.95,208.31 L662.83,208.08 L663.72,207.85 L664.60,207.61 L665.48,207.37 L666.36,207.12 L667.23,206.87 L668.10,206.61 L668.97,206.34 L669.84,206.07 L670.71,205.80 L671.57,205.51 L672.43,205.22 L673.28,204.93 L674.14,204.63 L674.99,204.32 L675.84,204.00 L676.68,203.68 L677.53,203.36 L678.36,203.02 L679.20,202.68 L680.03,202.33 L680.86,201.98 L681.69,201.62 L682.51,201.25 L683.33,200.88 L684.15,200.49 L684.96,200.10 L685.77,199.71 L686.58,199.31 L687.38,198.90 L688.18,198.48 L688.97,198.05 L689.76,197.62 L690.54,197.19 L691.33,196.74 L692.10,196.29 L692.87,195.83 L693.64,195.36 L694.41,194.89 L695.16,194.41 L695.92,193.92 L696.67,193.43 L697.41,192.92 L698.15,192.41 L698.89,191.90 L699.61,191.38 L700.34,190.84 L701.06,190.31 L701.77,189.76 L702.48,189.21 L703.18,188.65 L703.88,188.08 L704.57,187.51 L705.25,186.93 L705.93,186.34 L706.60,185.74 L707.27,185.14 L707.93,184.53 L708.59,183.91 L709.24,183.29 L709.88,182.66 L710.52,182.02 L711.15,181.37 L711.77,180.72 L712.39,180.06 L713.00,179.40 L713.60,178.73 L714.20,178.05 L714.80,177.36 L715.38,176.67 L715.96,175.97 L716.54,175.27 L717.10,174.56 L717.67,173.85 L718.22,173.13 L718.77,172.40 L719.31,171.67 L719.85,170.93 L720.38,170.19 L720.90,169.44 L721.42,168.69 L721.93,167.93 L722.44,167.17 L722.93,166.40 L723.43,165.63 L723.91,164.85 L724.39,164.07 L724.87,163.28 L725.33,162.49 L725.79,161.70 L726.25,160.90 L726.69,160.10 L727.13,159.29 L727.57,158.48 L728.00,157.66 L728.42,156.85 L728.84,156.02 L729.24,155.20 L729.65,154.37 L730.04,153.54 L730.43,152.70 L730.82,151.86 L731.19,151.02 L731.56,150.18 L731.93,149.33 L732.28,148.48 L732.63,147.62 L732.98,146.77 L733.32,145.91 L733.65,145.05 L733.97,144.19 L734.29,143.32 L734.60,142.46 L734.91,141.59 L735.21,140.72 L735.50,139.84 L735.78,138.97 L736.06,138.09 L736.34,137.22 L736.60,136.34 L736.86,135.46 L737.11,134.58 L737.36,133.69 L737.60,132.81 L737.83,131.92 L738.06,131.04 L738.28,130.15 L738.49,129.27 L738.70,128.38 L738.90,127.49 L739.09,126.60 L739.28,125.71 L739.46,124.83 L739.63,123.94 L739.79,123.05 L739.95,122.16 L740.11,121.27 L740.25,120.38 L740.39,119.50" fill="none" stroke="#1a1a1a" stroke-width="1.3"/>
<path d="M571.00,225.60 L571.99,225.51 L572.98,225.42 L573.97,225.33 L574.97,225.25 L575.96,225.17 L576.95,225.09 L577.94,225.01 L578.94,224.94 L579.93,224.86 L580.92,224.80 L581.92,224.73 L582.91,224.66 L583.91,224.60 L584.90,224.54 L585.89,224.48 L586.89,224.42 L587.88,224.36 L588.88,224.31 L589.87,224.26 L590.87,224.20 L591.86,224.15 L592.86,224.10 L593.85,224.06 L594.85,224.01 L595.84,223.96 L596.84,223.92 L597.83,223.87 L598.83,223.83 L599.83,223.79 L600.82,223.75 L601.82,223.70 L602.81,223.66 L603.81,223.62 L604.80,223.58 L605.80,223.54 L606.79,223.50 L607.79,223.46 L608.78,223.42 L609.78,223.38 L610.77,223.34 L611.77,223.30 L612.76,223.26 L613.76,223.21 L614.75,223.17 L615.74,223.13 L616.74,223.09 L617.73,223.04 L618.73,222.99 L619.72,222.95 L620.71,222.90 L621.71,222.85 L622.70,222.80 L623.69,222.75 L624.69,222.70 L625.68,222.65 L626.67,222.59 L627.66,222.53 L628.65,222.47 L629.64,222.41 L630.63,222.35 L631.63,222.29 L632.62,222.22 L633.61,222.15 L634.60,222.08 L635.58,222.01 L636.57,221.93 L637.56,221.86 L638.55,221.78 L639.54,221.69 L640.53,221.61 L641.51,221.52 L642.50,221.43 L643.49,221.34 L644.47,221.24 L645.46,221.14 L646.44,221.04 L647.43,220.93 L648.41,220.82 L649.39,220.71 L650.38,220.59 L651.36,220.47 L652.34,220.35 L653.32,220.22 L654.30,220.09 L655.29,219.95 L656.27,219.81 L657.24,219.67 L658.22,219.52 L659.20,219.37 L660.18,219.22 L661.16,219.06 L662.13,218.89 L663.11,218.72 L664.08,218.55 L665.06,218.37 L666.03,218.19 L667.01,218.00 L667.98,217.81 L668.95,217.61 L669.92,217.40 L670.89,217.20 L671.86,216.98 L672.83,216.76 L673.80,216.54 L674.77,216.31 L675.74,216.07 L676.70,215.83 L677.67,215.59 L678.63,215.33 L679.60,215.07 L680.56,214.81 L681.52,214.54 L682.49,214.26 L683.45,213.98 L684.41,213.69 L685.37,213.39 L686.32,213.09 L687.28,212.78 L688.24,212.47 L689.19,212.14 L690.15,211.82 L691.10,211.48 L692.05,211.14 L693.00,210.79 L693.94,210.44 L694.89,210.08 L695.83,209.72 L696.77,209.34 L697.71,208.97 L698.64,208.58 L699.58,208.19 L700.51,207.80 L701.43,207.40 L702.36,206.99 L703.28,206.58 L704.19,206.16 L705.10,205.73 L706.01,205.30 L706.92,204.87 L707.82,204.42 L708.71,203.97 L709.60,203.52 L710.47,203.05 L711.34,202.57 L712.21,202.08 L713.06,201.58 L713.90,201.07 L714.72,200.54 L715.54,200.01 L716.34,199.45 L717.12,198.89 L717.90,198.30 L718.65,197.70 L719.39,197.08 L720.11,196.45 L720.81,195.80 L721.50,195.12 L722.17,194.44 L722.82,193.73 L723.45,193.01 L724.07,192.28 L724.68,191.53 L725.26,190.77 L725.84,189.99 L726.40,189.20 L726.94,188.39 L727.47,187.57 L727.99,186.75 L728.50,185.91 L728.99,185.05 L729.47,184.19 L729.93,183.32 L730.39,182.44 L730.83,181.55 L731.27,180.65 L731.69,179.74 L732.10,178.83 L732.50,177.90 L732.89,176.98 L733.28,176.04 L733.65,175.10 L734.01,174.15 L734.37,173.20 L734.72,172.25 L735.06,171.29 L735.39,170.33 L735.72,169.36 L736.04,168.40 L736.36,167.43 L736.66,166.46 L736.97,165.48 L737.26,164.51 L737.56,163.54 L737.85,162.57 L738.13,161.60 L738.41,160.63 L738.69,159.66 L738.96,158.70 L739.23,157.73 L739.50,156.77 L739.76,155.81 L740.02,154.85 L740.28,153.88 L740.54,152.92 L740.79,151.97 L741.05,151.01 L741.30,150.05 L741.55,149.09 L741.80,148.14 L742.04,147.18 L742.29,146.23 L742.54,145.27 L742.78,144.32 L743.03,143.37 L743.27,142.41 L743.52,141.46 L743.77,140.51 L744.01,139.56 L744.26,138.60 L744.51,137.65 L744.76,136.70 L745.01,135.75 L745.26,134.79 L745.52,133.84 L745.78,132.89 L746.04,131.94 L746.30,130.98 L746.56,130.03 L746.83,129.08 L747.10,128.12 L747.37,127.17 L747.65,126.21 L747.93,125.25 L748.21,124.30 L748.50,123.34 L748.79,122.38 L749.09,121.42 L749.39,120.46 L749.70,119.50" fill="none" stroke="#1a1a1a" stroke-width="1.3" stroke-dasharray="3.2,1.8"/>
<path d="M571.00,218.70 L571.87,218.82 L572.74,218.94 L573.61,219.06 L574.48,219.16 L575.35,219.27 L576.22,219.37 L577.09,219.46 L577.96,219.56 L578.83,219.64 L579.70,219.73 L580.57,219.80 L581.45,219.88 L582.32,219.95 L583.19,220.02 L584.06,220.08 L584.93,220.14 L585.80,220.20 L586.67,220.26 L587.54,220.31 L588.41,220.35 L589.28,220.40 L590.15,220.44 L591.02,220.48 L591.90,220.51 L592.77,220.55 L593.64,220.58 L594.51,220.60 L595.38,220.63 L596.25,220.65 L597.12,220.67 L597.99,220.69 L598.86,220.71 L599.73,220.72 L600.60,220.74 L601.48,220.75 L602.35,220.76 L603.22,220.76 L604.09,220.77 L604.96,220.77 L605.83,220.78 L606.70,220.78 L607.57,220.78 L608.44,220.78 L609.31,220.78 L610.18,220.78 L611.05,220.77 L611.92,220.77 L612.79,220.77 L613.66,220.76 L614.53,220.76 L615.40,220.75 L616.27,220.74 L617.14,220.74 L618.01,220.73 L618.88,220.73 L619.75,220.72 L620.62,220.72 L621.49,220.71 L622.36,220.70 L623.22,220.70 L624.09,220.70 L624.96,220.69 L625.83,220.69 L626.70,220.69 L627.57,220.69 L628.44,220.69 L629.30,220.69 L630.17,220.69 L631.04,220.70 L631.91,220.70 L632.78,220.71 L633.64,220.72 L634.51,220.73 L635.38,220.74 L636.24,220.75 L637.11,220.77 L637.98,220.78 L638.85,220.80 L639.71,220.83 L640.58,220.85 L641.44,220.88 L642.31,220.90 L643.18,220.94 L644.04,220.97 L644.91,221.01 L645.77,221.05 L646.64,221.09 L647.50,221.13 L648.37,221.18 L649.23,221.24 L650.10,221.29 L650.96,221.35 L651.82,221.41 L652.69,221.48 L653.55,221.55 L654.41,221.62 L655.28,221.70 L656.14,221.78 L657.00,221.86 L657.86,221.95 L658.73,222.04 L659.59,222.14 L660.45,222.24 L661.31,222.35 L662.17,222.46 L663.03,222.58 L663.90,222.70 L664.76,222.82 L665.62,222.95 L666.48,223.09 L667.34,223.23 L668.20,223.37 L669.05,223.52 L669.91,223.68 L670.77,223.84 L671.63,224.01 L672.49,224.18 L673.35,224.35 L674.21,224.53 L675.07,224.71 L675.93,224.90 L676.78,225.09 L677.65,225.27 L678.51,225.46 L679.37,225.66 L680.23,225.85 L681.09,226.04 L681.96,226.23 L682.83,226.42 L683.69,226.61 L684.56,226.80 L685.43,226.98 L686.30,227.16 L687.18,227.34 L688.05,227.52 L688.93,227.69 L689.81,227.85 L690.69,228.01 L691.57,228.17 L692.46,228.32 L693.35,228.46 L694.23,228.60 L695.12,228.73 L696.01,228.85 L696.89,228.95 L697.78,229.05 L698.66,229.14 L699.55,229.22 L700.43,229.29 L701.31,229.34 L702.18,229.38 L703.06,229.41 L703.93,229.42 L704.79,229.42 L705.66,229.40 L706.51,229.36 L707.37,229.31 L708.21,229.25 L709.06,229.16 L709.89,229.05 L710.72,228.93 L711.54,228.78 L712.36,228.62 L713.17,228.43 L713.97,228.22 L714.76,227.99 L715.54,227.74 L716.32,227.46 L717.08,227.17 L717.84,226.85 L718.59,226.51 L719.33,226.16 L720.07,225.78 L720.79,225.38 L721.51,224.97 L722.22,224.53 L722.91,224.08 L723.61,223.61 L724.29,223.12 L724.96,222.62 L725.63,222.10 L726.29,221.56 L726.93,221.01 L727.57,220.44 L728.21,219.86 L728.83,219.26 L729.44,218.65 L730.05,218.03 L730.65,217.39 L731.24,216.74 L731.82,216.08 L732.39,215.41 L732.95,214.72 L733.51,214.02 L734.05,213.32 L734.59,212.60 L735.12,211.87 L735.64,211.14 L736.15,210.39 L736.66,209.64 L737.15,208.88 L737.64,208.11 L738.12,207.33 L738.59,206.55 L739.05,205.76 L739.50,204.96 L739.94,204.16 L740.37,203.35 L740.80,202.54 L741.22,201.72 L741.62,200.90 L742.02,200.08 L742.42,199.25 L742.80,198.42 L743.17,197.59 L743.54,196.76 L743.89,195.92 L744.24,195.08 L744.58,194.25 L744.91,193.41 L745.23,192.57 L745.54,191.74 L745.84,190.90 L746.14,190.07 L746.42,189.23 L746.70,188.40 L746.97,187.58 L747.23,186.75 L747.48,185.93 L747.72,185.11 L747.95,184.30 L748.18,183.49 L748.39,182.69 L748.60,181.89 L748.79,181.10 L748.98,180.32 L749.16,179.54 L749.33,178.77 L749.49,178.01" fill="none" stroke="#3f5ed6" stroke-width="1.3"/>
<path d="M571.00,226.30 L571.76,226.39 L572.51,226.47 L573.27,226.55 L574.03,226.64 L574.78,226.72 L575.54,226.80 L576.30,226.88 L577.06,226.96 L577.82,227.04 L578.58,227.12 L579.34,227.19 L580.10,227.27 L580.86,227.35 L581.62,227.42 L582.38,227.49 L583.14,227.57 L583.90,227.64 L584.66,227.71 L585.42,227.78 L586.18,227.85 L586.95,227.92 L587.71,227.99 L588.47,228.06 L589.23,228.13 L590.00,228.19 L590.76,228.26 L591.52,228.33 L592.29,228.39 L593.05,228.46 L593.82,228.52 L594.58,228.59 L595.35,228.65 L596.11,228.71 L596.88,228.77 L597.64,228.84 L598.41,228.90 L599.17,228.96 L599.94,229.02 L600.70,229.08 L601.47,229.14 L602.24,229.20 L603.00,229.26 L603.77,229.32 L604.54,229.38 L605.30,229.43 L606.07,229.49 L606.84,229.55 L607.61,229.61 L608.37,229.67 L609.14,229.72 L609.91,229.78 L610.68,229.84 L611.45,229.89 L612.22,229.95 L612.98,230.01 L613.75,230.06 L614.52,230.12 L615.29,230.18 L616.06,230.23 L616.83,230.29 L617.60,230.34 L618.37,230.40 L619.13,230.46 L619.90,230.51 L620.67,230.57 L621.44,230.63 L622.21,230.68 L622.98,230.74 L623.75,230.80 L624.52,230.85 L625.29,230.91 L626.06,230.97 L626.83,231.02 L627.60,231.08 L628.37,231.14 L629.14,231.20 L629.91,231.25 L630.68,231.31 L631.45,231.37 L632.22,231.43 L632.99,231.49 L633.76,231.55 L634.53,231.61 L635.30,231.67 L636.07,231.73 L636.84,231.79 L637.61,231.85 L638.38,231.91 L639.14,231.97 L639.91,232.04 L640.68,232.10 L641.45,232.16 L642.22,232.23 L642.99,232.29 L643.76,232.36 L644.53,232.42 L645.30,232.49 L646.07,232.56 L646.84,232.62 L647.61,232.69 L648.37,232.76 L649.14,232.83 L649.91,232.90 L650.68,232.97 L651.45,233.04 L652.22,233.11 L652.98,233.19 L653.75,233.26 L654.52,233.33 L655.29,233.41 L656.05,233.48 L656.82,233.56 L657.59,233.64 L658.36,233.72 L659.12,233.80 L659.89,233.87 L660.66,233.96 L661.42,234.04 L662.19,234.12 L662.95,234.20 L663.72,234.29 L664.49,234.37 L665.25,234.46 L666.02,234.55 L666.78,234.64 L667.55,234.73 L668.31,234.82 L669.07,234.91 L669.84,235.00 L670.60,235.09 L671.37,235.19 L672.13,235.29 L672.89,235.38 L673.66,235.48 L674.42,235.58 L675.18,235.68 L675.94,235.78 L676.70,235.89 L677.47,235.99 L678.23,236.10 L678.99,236.20 L679.75,236.31 L680.51,236.42 L681.27,236.53 L682.03,236.65 L682.79,236.76 L683.55,236.87 L684.31,236.99 L685.07,237.11 L685.83,237.23 L686.58,237.35 L687.34,237.47 L688.10,237.59 L688.86,237.72 L689.61,237.85 L690.37,237.97 L691.12,238.10 L691.88,238.23 L692.64,238.37 L693.39,238.50 L694.15,238.64 L694.90,238.77 L695.65,238.91 L696.41,239.05 L697.16,239.20 L697.91,239.34 L698.66,239.49 L699.42,239.63 L700.17,239.78 L700.92,239.94 L701.67,240.09 L702.42,240.24 L703.17,240.40 L703.92,240.56 L704.67,240.72 L705.42,240.88 L706.17,241.04 L706.91,241.21 L707.66,241.38 L708.41,241.55 L709.15,241.72 L709.90,241.89 L710.64,242.06 L711.39,242.24 L712.13,242.42 L712.88,242.60 L713.62,242.79 L714.36,242.97 L715.11,243.16 L715.85,243.35 L716.59,243.54 L717.33,243.73 L718.07,243.93 L718.81,244.13 L719.55,244.33 L720.29,244.53 L721.03,244.73 L721.77,244.94 L722.50,245.15 L723.24,245.36 L723.98,245.57 L724.71,245.79 L725.45,246.00 L726.18,246.22 L726.92,246.45 L727.65,246.67 L728.38,246.90 L729.11,247.13 L729.85,247.36 L730.58,247.59 L731.31,247.83 L732.04,248.07 L732.77,248.31 L733.49,248.55 L734.22,248.80 L734.95,249.05 L735.68,249.30 L736.40,249.56 L737.13,249.81 L737.85,250.07 L738.58,250.33 L739.30,250.60 L740.02,250.86 L740.75,251.13 L741.47,251.40 L742.19,251.68 L742.91,251.96 L743.63,252.24 L744.35,252.52 L745.07,252.80 L745.78,253.09 L746.50,253.38 L747.22,253.68 L747.93,253.97 L748.65,254.27 L749.36,254.57 L750.08,254.88 L750.79,255.19 L751.50,255.50" fill="none" stroke="#7d8cad" stroke-width="1.3"/>
<path d="M571.00,226.80 L571.76,226.88 L572.52,226.97 L573.28,227.05 L574.04,227.13 L574.79,227.21 L575.55,227.29 L576.31,227.37 L577.08,227.45 L577.84,227.52 L578.60,227.60 L579.36,227.68 L580.12,227.75 L580.88,227.83 L581.64,227.90 L582.41,227.97 L583.17,228.04 L583.93,228.11 L584.69,228.19 L585.46,228.26 L586.22,228.32 L586.99,228.39 L587.75,228.46 L588.51,228.53 L589.28,228.60 L590.04,228.66 L590.81,228.73 L591.57,228.79 L592.34,228.86 L593.11,228.92 L593.87,228.99 L594.64,229.05 L595.40,229.11 L596.17,229.18 L596.94,229.24 L597.70,229.30 L598.47,229.36 L599.24,229.42 L600.01,229.48 L600.77,229.54 L601.54,229.60 L602.31,229.66 L603.08,229.72 L603.85,229.78 L604.61,229.84 L605.38,229.90 L606.15,229.96 L606.92,230.02 L607.69,230.08 L608.46,230.13 L609.23,230.19 L610.00,230.25 L610.77,230.31 L611.54,230.36 L612.31,230.42 L613.08,230.48 L613.84,230.53 L614.61,230.59 L615.38,230.65 L616.15,230.71 L616.93,230.76 L617.70,230.82 L618.47,230.88 L619.24,230.93 L620.01,230.99 L620.78,231.05 L621.55,231.10 L622.32,231.16 L623.09,231.22 L623.86,231.28 L624.63,231.33 L625.40,231.39 L626.17,231.45 L626.94,231.51 L627.71,231.57 L628.48,231.63 L629.25,231.68 L630.03,231.74 L630.80,231.80 L631.57,231.86 L632.34,231.92 L633.11,231.98 L633.88,232.04 L634.65,232.11 L635.42,232.17 L636.19,232.23 L636.96,232.29 L637.73,232.35 L638.50,232.42 L639.27,232.48 L640.05,232.54 L640.82,232.61 L641.59,232.67 L642.36,232.74 L643.13,232.80 L643.90,232.87 L644.67,232.94 L645.44,233.00 L646.21,233.07 L646.98,233.14 L647.75,233.21 L648.52,233.28 L649.29,233.35 L650.06,233.42 L650.83,233.49 L651.59,233.57 L652.36,233.64 L653.13,233.71 L653.90,233.79 L654.67,233.86 L655.44,233.94 L656.21,234.02 L656.98,234.10 L657.74,234.17 L658.51,234.25 L659.28,234.33 L660.05,234.42 L660.82,234.50 L661.58,234.58 L662.35,234.66 L663.12,234.75 L663.88,234.83 L664.65,234.92 L665.42,235.01 L666.18,235.10 L666.95,235.19 L667.72,235.28 L668.48,235.37 L669.25,235.46 L670.01,235.56 L670.78,235.65 L671.54,235.75 L672.31,235.84 L673.07,235.94 L673.84,236.04 L674.60,236.14 L675.36,236.24 L676.13,236.35 L676.89,236.45 L677.65,236.56 L678.42,236.66 L679.18,236.77 L679.94,236.88 L680.70,236.99 L681.46,237.10 L682.22,237.21 L682.99,237.33 L683.75,237.44 L684.51,237.56 L685.27,237.68 L686.03,237.80 L686.79,237.92 L687.54,238.04 L688.30,238.17 L689.06,238.29 L689.82,238.42 L690.58,238.55 L691.34,238.68 L692.09,238.81 L692.85,238.94 L693.61,239.08 L694.36,239.21 L695.12,239.35 L695.87,239.49 L696.63,239.63 L697.38,239.77 L698.14,239.92 L698.89,240.06 L699.64,240.21 L700.40,240.36 L701.15,240.51 L701.90,240.66 L702.65,240.82 L703.41,240.97 L704.16,241.13 L704.91,241.29 L705.66,241.45 L706.41,241.61 L707.16,241.78 L707.91,241.94 L708.66,242.11 L709.40,242.28 L710.15,242.46 L710.90,242.63 L711.65,242.81 L712.39,242.98 L713.14,243.16 L713.88,243.35 L714.63,243.53 L715.37,243.72 L716.12,243.90 L716.86,244.09 L717.60,244.29 L718.35,244.48 L719.09,244.68 L719.83,244.87 L720.57,245.07 L721.31,245.28 L722.05,245.48 L722.79,245.69 L723.53,245.90 L724.27,246.11 L725.01,246.32 L725.74,246.54 L726.48,246.75 L727.22,246.97 L727.95,247.20 L728.69,247.42 L729.42,247.65 L730.16,247.88 L730.89,248.11 L731.62,248.34 L732.36,248.58 L733.09,248.82 L733.82,249.06 L734.55,249.30 L735.28,249.55 L736.01,249.79 L736.74,250.05 L737.47,250.30 L738.19,250.55 L738.92,250.81 L739.65,251.07 L740.37,251.34 L741.10,251.60 L741.82,251.87 L742.55,252.14 L743.27,252.41 L743.99,252.69 L744.72,252.97 L745.44,253.25 L746.16,253.53 L746.88,253.82 L747.60,254.11 L748.32,254.40 L749.04,254.69 L749.75,254.99 L750.47,255.29 L751.19,255.59 L751.90,255.90" fill="none" stroke="#7d8cad" stroke-width="1.3" stroke-dasharray="3.2,1.8"/>
<path d="M571.00,219.60 L571.88,219.69 L572.76,219.77 L573.64,219.86 L574.52,219.94 L575.40,220.02 L576.28,220.10 L577.16,220.18 L578.04,220.26 L578.92,220.34 L579.79,220.41 L580.67,220.49 L581.55,220.56 L582.43,220.64 L583.31,220.71 L584.19,220.78 L585.07,220.85 L585.94,220.92 L586.82,220.99 L587.70,221.06 L588.58,221.13 L589.46,221.19 L590.33,221.26 L591.21,221.32 L592.09,221.39 L592.97,221.45 L593.84,221.52 L594.72,221.58 L595.60,221.65 L596.48,221.71 L597.35,221.77 L598.23,221.84 L599.11,221.90 L599.98,221.96 L600.86,222.02 L601.73,222.08 L602.61,222.15 L603.49,222.21 L604.36,222.27 L605.24,222.33 L606.11,222.40 L606.99,222.46 L607.86,222.52 L608.74,222.58 L609.61,222.65 L610.49,222.71 L611.36,222.77 L612.24,222.84 L613.11,222.90 L613.98,222.97 L614.86,223.03 L615.73,223.10 L616.60,223.16 L617.48,223.23 L618.35,223.30 L619.22,223.37 L620.10,223.44 L620.97,223.51 L621.84,223.58 L622.71,223.65 L623.59,223.72 L624.46,223.79 L625.33,223.87 L626.20,223.94 L627.07,224.02 L627.94,224.10 L628.81,224.17 L629.68,224.25 L630.55,224.34 L631.43,224.42 L632.30,224.50 L633.17,224.59 L634.04,224.67 L634.90,224.76 L635.77,224.85 L636.64,224.94 L637.51,225.03 L638.38,225.12 L639.25,225.22 L640.12,225.31 L640.99,225.41 L641.85,225.51 L642.72,225.61 L643.59,225.72 L644.46,225.82 L645.32,225.93 L646.19,226.04 L647.06,226.15 L647.92,226.26 L648.79,226.37 L649.65,226.49 L650.52,226.61 L651.38,226.73 L652.25,226.85 L653.11,226.98 L653.98,227.11 L654.84,227.24 L655.71,227.37 L656.57,227.50 L657.44,227.64 L658.30,227.78 L659.16,227.92 L660.03,228.06 L660.89,228.21 L661.75,228.36 L662.61,228.51 L663.47,228.67 L664.34,228.82 L665.20,228.98 L666.06,229.15 L666.92,229.31 L667.78,229.48 L668.64,229.65 L669.50,229.83 L670.36,230.00 L671.22,230.18 L672.08,230.37 L672.94,230.55 L673.80,230.74 L674.65,230.94 L675.51,231.13 L676.37,231.33 L677.23,231.53 L678.09,231.74 L678.94,231.95 L679.80,232.16 L680.66,232.38 L681.51,232.60 L682.37,232.82 L683.22,233.05 L684.08,233.28 L684.93,233.51 L685.79,233.75 L686.64,233.99 L687.50,234.23 L688.35,234.48 L689.20,234.74 L690.06,234.99 L690.91,235.25 L691.76,235.52 L692.61,235.78 L693.46,236.06 L694.32,236.33 L695.17,236.61 L696.02,236.90 L696.87,237.19 L697.72,237.48 L698.57,237.78 L699.42,238.08 L700.27,238.38 L701.12,238.69 L701.96,239.01 L702.81,239.32 L703.66,239.63 L704.51,239.94 L705.36,240.25 L706.20,240.55 L707.05,240.85 L707.90,241.13 L708.74,241.41 L709.59,241.67 L710.44,241.93 L711.28,242.16 L712.13,242.39 L712.97,242.59 L713.82,242.78 L714.66,242.94 L715.51,243.08 L716.35,243.20 L717.19,243.29 L718.03,243.36 L718.87,243.39 L719.70,243.40 L720.53,243.36 L721.35,243.29 L722.17,243.19 L722.98,243.04 L723.77,242.86 L724.56,242.63 L725.35,242.37 L726.12,242.08 L726.88,241.75 L727.64,241.39 L728.38,241.01 L729.12,240.59 L729.84,240.14 L730.55,239.66 L731.26,239.16 L731.95,238.64 L732.63,238.09 L733.30,237.52 L733.96,236.93 L734.60,236.33 L735.23,235.70 L735.85,235.06 L736.46,234.40 L737.06,233.73 L737.64,233.04 L738.20,232.35 L738.76,231.64 L739.30,230.92 L739.83,230.20 L740.34,229.46 L740.84,228.71 L741.33,227.96 L741.81,227.20 L742.28,226.43 L742.73,225.65 L743.18,224.87 L743.61,224.08 L744.04,223.29 L744.45,222.49 L744.85,221.68 L745.25,220.87 L745.63,220.05 L746.01,219.24 L746.38,218.41 L746.74,217.59 L747.09,216.76 L747.44,215.93 L747.77,215.10 L748.11,214.26 L748.43,213.43 L748.75,212.59 L749.06,211.76 L749.36,210.92 L749.66,210.09 L749.96,209.26 L750.25,208.43 L750.53,207.60 L750.81,206.77 L751.09,205.95 L751.36,205.12 L751.63,204.31 L751.90,203.49 L752.17,202.68 L752.43,201.88 L752.69,201.08 L752.94,200.29 L753.20,199.50" fill="none" stroke="#3f5ed6" stroke-width="1.3" stroke-dasharray="3.2,1.8"/>
<path d="M571.00,228.80 L571.58,228.84 L572.16,228.89 L572.75,228.94 L573.33,228.98 L573.92,229.03 L574.50,229.08 L575.08,229.13 L575.67,229.18 L576.25,229.23 L576.84,229.29 L577.43,229.34 L578.01,229.39 L578.60,229.45 L579.19,229.51 L579.78,229.56 L580.36,229.62 L580.95,229.68 L581.54,229.74 L582.13,229.81 L582.72,229.87 L583.31,229.93 L583.90,230.00 L584.49,230.06 L585.08,230.13 L585.67,230.20 L586.26,230.27 L586.85,230.34 L587.44,230.41 L588.03,230.48 L588.62,230.56 L589.21,230.63 L589.80,230.71 L590.39,230.79 L590.99,230.87 L591.58,230.95 L592.17,231.03 L592.76,231.11 L593.35,231.19 L593.95,231.28 L594.54,231.36 L595.13,231.45 L595.72,231.54 L596.32,231.62 L596.91,231.71 L597.50,231.81 L598.09,231.90 L598.69,231.99 L599.28,232.09 L599.87,232.18 L600.46,232.28 L601.05,232.38 L601.65,232.48 L602.24,232.58 L602.83,232.69 L603.42,232.79 L604.02,232.89 L604.61,233.00 L605.20,233.11 L605.79,233.22 L606.38,233.33 L606.97,233.44 L607.56,233.55 L608.15,233.67 L608.75,233.78 L609.34,233.90 L609.93,234.02 L610.52,234.14 L611.11,234.26 L611.70,234.38 L612.29,234.51 L612.87,234.63 L613.46,234.76 L614.05,234.89 L614.64,235.02 L615.23,235.15 L615.82,235.28 L616.40,235.42 L616.99,235.55 L617.58,235.69 L618.16,235.83 L618.75,235.97 L619.33,236.11 L619.92,236.25 L620.51,236.40 L621.09,236.54 L621.67,236.69 L622.26,236.84 L622.84,236.99 L623.42,237.14 L624.01,237.29 L624.59,237.45 L625.17,237.61 L625.75,237.76 L626.33,237.92 L626.91,238.08 L627.49,238.25 L628.07,238.41 L628.65,238.58 L629.23,238.75 L629.80,238.91 L630.38,239.08 L630.96,239.26 L631.53,239.43 L632.11,239.61 L632.68,239.78 L633.25,239.96 L633.83,240.14 L634.40,240.32 L634.97,240.51 L635.54,240.69 L636.11,240.88 L636.68,241.07 L637.25,241.26 L637.82,241.45 L638.39,241.65 L638.96,241.84 L639.52,242.04 L640.09,242.24 L640.65,242.44 L641.22,242.64 L641.78,242.84 L642.34,243.05 L642.90,243.26 L643.47,243.47 L644.03,243.68 L644.59,243.89 L645.14,244.10 L645.70,244.32 L646.26,244.54 L646.81,244.76 L647.37,244.98 L647.92,245.20 L648.48,245.43 L649.03,245.66 L649.58,245.89 L650.13,246.12 L650.68,246.35 L651.23,246.58 L651.78,246.82 L652.32,247.06 L652.87,247.30 L653.42,247.54 L653.96,247.78 L654.50,248.03 L655.04,248.28 L655.59,248.53 L656.12,248.78 L656.66,249.03 L657.20,249.29 L657.74,249.55 L658.27,249.80 L658.81,250.07 L659.34,250.33 L659.87,250.59 L660.41,250.86 L660.94,251.13 L661.46,251.40 L661.99,251.67 L662.52,251.95 L663.04,252.23 L663.57,252.51 L664.09,252.79 L664.61,253.07 L665.13,253.35 L665.65,253.64 L666.17,253.93 L666.69,254.22 L667.20,254.52 L667.72,254.81 L668.23,255.11 L668.74,255.41 L669.25,255.71 L669.76,256.01 L670.27,256.32 L670.78,256.63 L671.28,256.94 L671.79,257.25 L672.29,257.56 L672.79,257.88 L673.29,258.20 L673.79,258.52 L674.29,258.84 L674.78,259.17 L675.28,259.49 L675.77,259.82 L676.26,260.15 L676.75,260.49 L677.24,260.82 L677.73,261.16 L678.21,261.50 L678.70,261.84 L679.18,262.19 L679.66,262.53 L680.14,262.88 L680.62,263.23 L681.10,263.59 L681.57,263.94 L682.05,264.30 L682.52,264.66 L682.99,265.03 L683.46,265.39 L683.92,265.76 L684.39,266.13 L684.85,266.50 L685.32,266.87 L685.78,267.25 L686.24,267.63 L686.69,268.01 L687.15,268.39 L687.60,268.78 L688.06,269.17 L688.51,269.56 L688.95,269.95 L689.40,270.34 L689.85,270.74 L690.29,271.14 L690.73,271.54 L691.17,271.95 L691.61,272.36 L692.05,272.76 L692.48,273.18 L692.92,273.59 L693.35,274.01 L693.78,274.43 L694.21,274.85 L694.63,275.27 L695.05,275.70 L695.48,276.13 L695.90,276.56 L696.32,276.99 L696.73,277.43 L697.15,277.87 L697.56,278.31 L697.97,278.75 L698.38,279.20 L698.79,279.65 L699.19,280.10 L699.59,280.55 L699.99,281.01" fill="none" stroke="#3fe23a" stroke-width="1.3" stroke-dasharray="3.2,1.8"/>
<path d="M571.00,223.50 L571.75,223.55 L572.50,223.59 L573.25,223.64 L574.00,223.70 L574.75,223.75 L575.50,223.81 L576.26,223.87 L577.01,223.94 L577.76,224.00 L578.51,224.07 L579.26,224.14 L580.02,224.22 L580.77,224.29 L581.52,224.37 L582.28,224.46 L583.03,224.54 L583.78,224.63 L584.54,224.72 L585.29,224.81 L586.04,224.91 L586.79,225.01 L587.55,225.11 L588.30,225.21 L589.05,225.32 L589.81,225.43 L590.56,225.54 L591.31,225.65 L592.07,225.77 L592.82,225.89 L593.57,226.01 L594.32,226.14 L595.07,226.27 L595.83,226.40 L596.58,226.53 L597.33,226.67 L598.08,226.80 L598.83,226.95 L599.58,227.09 L600.33,227.24 L601.08,227.39 L601.83,227.54 L602.58,227.69 L603.33,227.85 L604.08,228.01 L604.83,228.17 L605.57,228.34 L606.32,228.51 L607.07,228.68 L607.81,228.85 L608.56,229.03 L609.30,229.21 L610.05,229.39 L610.79,229.57 L611.54,229.76 L612.28,229.95 L613.02,230.14 L613.76,230.34 L614.51,230.54 L615.25,230.74 L615.99,230.94 L616.72,231.15 L617.46,231.36 L618.20,231.57 L618.94,231.78 L619.67,232.00 L620.41,232.22 L621.14,232.44 L621.88,232.67 L622.61,232.89 L623.34,233.12 L624.08,233.36 L624.81,233.59 L625.54,233.83 L626.26,234.07 L626.99,234.32 L627.72,234.56 L628.44,234.81 L629.17,235.07 L629.89,235.32 L630.62,235.58 L631.34,235.84 L632.06,236.10 L632.78,236.37 L633.50,236.64 L634.22,236.91 L634.93,237.18 L635.65,237.46 L636.36,237.74 L637.08,238.02 L637.79,238.30 L638.50,238.59 L639.21,238.88 L639.92,239.17 L640.62,239.47 L641.33,239.77 L642.03,240.07 L642.74,240.37 L643.44,240.68 L644.14,240.99 L644.84,241.30 L645.54,241.62 L646.23,241.93 L646.93,242.25 L647.62,242.58 L648.32,242.90 L649.01,243.23 L649.70,243.56 L650.38,243.90 L651.07,244.23 L651.75,244.57 L652.44,244.91 L653.12,245.26 L653.80,245.61 L654.48,245.96 L655.16,246.31 L655.83,246.67 L656.51,247.02 L657.18,247.39 L657.85,247.75 L658.52,248.12 L659.18,248.49 L659.85,248.86 L660.51,249.23 L661.18,249.61 L661.84,249.99 L662.49,250.37 L663.15,250.76 L663.81,251.15 L664.46,251.54 L665.11,251.93 L665.76,252.33 L666.41,252.73 L667.05,253.13 L667.69,253.54 L668.34,253.95 L668.98,254.36 L669.61,254.77 L670.25,255.19 L670.88,255.61 L671.51,256.03 L672.14,256.45 L672.77,256.88 L673.40,257.31 L674.02,257.74 L674.64,258.18 L675.26,258.62 L675.88,259.06 L676.49,259.50 L677.11,259.95 L677.72,260.40 L678.32,260.85 L678.93,261.30 L679.53,261.76 L680.14,262.22 L680.73,262.68 L681.33,263.15 L681.93,263.62 L682.52,264.09 L683.11,264.56 L683.70,265.04 L684.28,265.52 L684.86,266.00 L685.44,266.49 L686.02,266.98 L686.60,267.47 L687.17,267.96 L687.74,268.46 L688.31,268.96 L688.87,269.46 L689.44,269.96 L690.00,270.47 L690.56,270.98 L691.11,271.49 L691.66,272.01 L692.21,272.53 L692.76,273.05 L693.31,273.57 L693.85,274.10 L694.39,274.63 L694.92,275.16 L695.46,275.70 L695.99,276.23 L696.52,276.77 L697.04,277.32 L697.57,277.86 L698.09,278.41 L698.60,278.96 L699.12,279.52 L699.63,280.08 L700.14,280.64 L700.65,281.20 L701.15,281.77 L701.65,282.33 L702.15,282.91 L702.64,283.48 L703.13,284.06 L703.62,284.64 L704.10,285.22 L704.59,285.80 L705.07,286.39 L705.54,286.98 L706.01,287.58 L706.48,288.17 L706.95,288.77 L707.42,289.37 L707.88,289.98 L708.33,290.59 L708.79,291.20 L709.24,291.81 L709.69,292.43 L710.13,293.04 L710.57,293.67 L711.01,294.29 L711.44,294.92 L711.88,295.55 L712.30,296.18 L712.73,296.82 L713.15,297.45 L713.57,298.10 L713.98,298.74 L714.39,299.39 L714.80,300.04 L715.21,300.69 L715.61,301.34 L716.00,302.00 L716.40,302.66 L716.79,303.33 L717.18,303.99 L717.56,304.66 L717.94,305.33 L718.32,306.01 L718.69,306.69 L719.06,307.37 L719.42,308.05 L719.79,308.74 L720.14,309.43 L720.50,310.12 L720.85,310.81 L721.20,311.51" fill="none" stroke="#3fe23a" stroke-width="1.3"/>
<polyline points="574.5,119.5 571,119.5 571,311.5 762.4,311.5" fill="none" stroke="#000" stroke-width="1.05"/>
<line x1="571" y1="119.5" x2="574.5" y2="119.5" stroke="#111" stroke-width="1.1"/>
<text x="561.6" y="123.2" font-size="10.20" text-anchor="end" fill="#111" stroke="#111" stroke-width="0.32" font-weight="normal" font-style="normal">500</text>
<line x1="571" y1="138.7" x2="574.5" y2="138.7" stroke="#111" stroke-width="1.1"/>
<text x="561.6" y="142.4" font-size="10.20" text-anchor="end" fill="#111" stroke="#111" stroke-width="0.32" font-weight="normal" font-style="normal">400</text>
<line x1="571" y1="157.9" x2="574.5" y2="157.9" stroke="#111" stroke-width="1.1"/>
<text x="561.6" y="161.6" font-size="10.20" text-anchor="end" fill="#111" stroke="#111" stroke-width="0.32" font-weight="normal" font-style="normal">300</text>
<line x1="571" y1="177.1" x2="574.5" y2="177.1" stroke="#111" stroke-width="1.1"/>
<text x="561.6" y="180.8" font-size="10.20" text-anchor="end" fill="#111" stroke="#111" stroke-width="0.32" font-weight="normal" font-style="normal">200</text>
<line x1="571" y1="196.3" x2="574.5" y2="196.3" stroke="#111" stroke-width="1.1"/>
<text x="561.6" y="200.0" font-size="10.20" text-anchor="end" fill="#111" stroke="#111" stroke-width="0.32" font-weight="normal" font-style="normal">100</text>
<line x1="571" y1="215.5" x2="574.5" y2="215.5" stroke="#111" stroke-width="1.1"/>
<text x="561.6" y="219.2" font-size="10.20" text-anchor="end" fill="#111" stroke="#111" stroke-width="0.32" font-weight="normal" font-style="normal">0</text>
<line x1="571" y1="234.7" x2="574.5" y2="234.7" stroke="#111" stroke-width="1.1"/>
<text x="561.6" y="238.4" font-size="10.20" text-anchor="end" fill="#111" stroke="#111" stroke-width="0.32" font-weight="normal" font-style="normal">-100</text>
<line x1="571" y1="253.9" x2="574.5" y2="253.9" stroke="#111" stroke-width="1.1"/>
<text x="561.6" y="257.6" font-size="10.20" text-anchor="end" fill="#111" stroke="#111" stroke-width="0.32" font-weight="normal" font-style="normal">-200</text>
<line x1="571" y1="273.1" x2="574.5" y2="273.1" stroke="#111" stroke-width="1.1"/>
<text x="561.6" y="276.8" font-size="10.20" text-anchor="end" fill="#111" stroke="#111" stroke-width="0.32" font-weight="normal" font-style="normal">-300</text>
<line x1="571" y1="292.3" x2="574.5" y2="292.3" stroke="#111" stroke-width="1.1"/>
<text x="561.6" y="296.0" font-size="10.20" text-anchor="end" fill="#111" stroke="#111" stroke-width="0.32" font-weight="normal" font-style="normal">-400</text>
<line x1="571" y1="311.5" x2="574.5" y2="311.5" stroke="#111" stroke-width="1.1"/>
<text x="561.6" y="315.2" font-size="10.20" text-anchor="end" fill="#111" stroke="#111" stroke-width="0.32" font-weight="normal" font-style="normal">-500</text>
<line x1="571.0" y1="311.5" x2="571.0" y2="308" stroke="#111" stroke-width="1.1"/>
<text x="572.0" y="328.3" font-size="10.30" text-anchor="middle" fill="#111" stroke="#111" stroke-width="0.32" font-weight="normal" font-style="normal">3.00</text>
<line x1="634.8" y1="311.5" x2="634.8" y2="308" stroke="#111" stroke-width="1.1"/>
<text x="635.8" y="328.3" font-size="10.30" text-anchor="middle" fill="#111" stroke="#111" stroke-width="0.32" font-weight="normal" font-style="normal">2.50</text>
<line x1="698.6" y1="311.5" x2="698.6" y2="308" stroke="#111" stroke-width="1.1"/>
<text x="699.6" y="328.3" font-size="10.30" text-anchor="middle" fill="#111" stroke="#111" stroke-width="0.32" font-weight="normal" font-style="normal">2.00</text>
<line x1="762.4" y1="311.5" x2="762.4" y2="308" stroke="#111" stroke-width="1.1"/>
<text x="763.4" y="328.3" font-size="10.30" text-anchor="middle" fill="#111" stroke="#111" stroke-width="0.32" font-weight="normal" font-style="normal">1.50</text>
<text x="666.3" y="342.8" font-size="10.45" text-anchor="middle" fill="#111" stroke="#111" stroke-width="0.32" font-weight="normal" font-style="normal">C-C bond distance (&#197;)</text>
<text transform="translate(533.1,207.0) rotate(-90)" font-size="10.4" text-anchor="middle" fill="#111" stroke="#111" stroke-width="0.32">Energy <tspan font-style="italic">E</tspan> (kJ mol<tspan font-size="6.5" dy="-3.6">&#8722;1</tspan><tspan dy="3.6">)</tspan></text>
<text x="620.6" y="132.6" font-size="10" fill="#ec1f45" stroke="#ec1f45" stroke-width="0.3">&#916;<tspan font-style="italic">E</tspan><tspan font-size="7" dy="2.3">exchange</tspan></text>
<text x="661.5" y="183.0" font-size="10" fill="#1a1f3a" stroke="#1a1f3a" stroke-width="0.3">&#916;<tspan font-style="italic">E</tspan><tspan font-size="7" dy="2.3">sSAPT0</tspan></text>
<text x="740.5" y="237.4" font-size="10" fill="#3f5ed6" stroke="#3f5ed6" stroke-width="0.3">&#916;<tspan font-style="italic">E</tspan><tspan font-size="7" dy="2.3">induction</tspan></text>
<text x="706.9" y="262.7" font-size="10" fill="#8090ad" stroke="#8090ad" stroke-width="0.3">&#916;<tspan font-style="italic">E</tspan><tspan font-size="7" dy="2.3">dispersion</tspan></text>
<text x="651.7" y="293.3" font-size="10" fill="#3fe23a" stroke="#3fe23a" stroke-width="0.3">&#916;<tspan font-style="italic">E</tspan><tspan font-size="7" dy="2.3">electrostatic</tspan></text>
</svg></body></html>
